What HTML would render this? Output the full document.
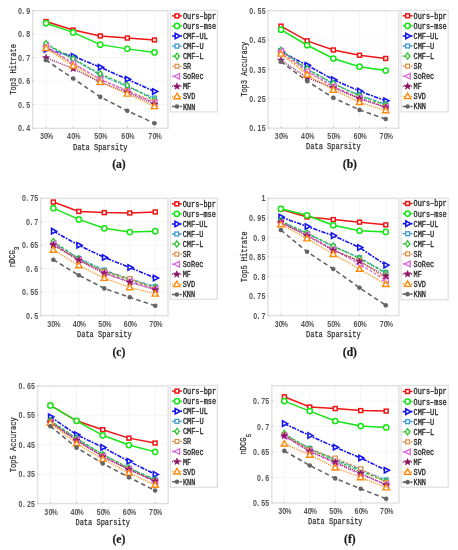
<!DOCTYPE html><html><head><meta charset="utf-8"><style>html,body{margin:0;padding:0;background:#fff;}svg{display:block;filter:blur(0.4px)}</style></head><body>
<svg width="458" height="550" viewBox="0 0 458 550">
<rect width="458" height="550" fill="#fff"/>
<g stroke="#f3f3f3" stroke-width="0.8"><line x1="46.05" y1="10.5" x2="46.05" y2="128.2"/><line x1="73.15" y1="10.5" x2="73.15" y2="128.2"/><line x1="100.25" y1="10.5" x2="100.25" y2="128.2"/><line x1="127.35" y1="10.5" x2="127.35" y2="128.2"/><line x1="154.45" y1="10.5" x2="154.45" y2="128.2"/><line x1="32.5" y1="104.66" x2="168" y2="104.66"/><line x1="32.5" y1="81.12" x2="168" y2="81.12"/><line x1="32.5" y1="57.58" x2="168" y2="57.58"/><line x1="32.5" y1="34.04" x2="168" y2="34.04"/></g>
<rect x="32.7" y="10.6" width="135.3" height="117.7" fill="none" stroke="#e0e0e0" stroke-width="1.4"/>
<g stroke="#b0b0b0" stroke-width="0.8"><line x1="46.05" y1="128.2" x2="46.05" y2="126.9"/><line x1="73.15" y1="128.2" x2="73.15" y2="126.9"/><line x1="100.25" y1="128.2" x2="100.25" y2="126.9"/><line x1="127.35" y1="128.2" x2="127.35" y2="126.9"/><line x1="154.45" y1="128.2" x2="154.45" y2="126.9"/><line x1="32.5" y1="128.2" x2="33.8" y2="128.2"/><line x1="32.5" y1="104.66" x2="33.8" y2="104.66"/><line x1="32.5" y1="81.12" x2="33.8" y2="81.12"/><line x1="32.5" y1="57.58" x2="33.8" y2="57.58"/><line x1="32.5" y1="34.04" x2="33.8" y2="34.04"/><line x1="32.5" y1="10.5" x2="33.8" y2="10.5"/></g>
<polyline points="46.05,21.56 73.15,30.04 100.25,35.92 127.35,38.04 154.45,39.92" fill="none" stroke="#f01414" stroke-width="1.5"/>
<polyline points="46.05,23.21 73.15,32.39 100.25,44.63 127.35,48.87 154.45,52.4" fill="none" stroke="#14e614" stroke-width="1.5"/>
<polyline points="46.05,49.34 73.15,56.17 100.25,67.23 127.35,79.24 154.45,91.48" fill="none" stroke="#1414f0" stroke-width="1.6" stroke-dasharray="4.4,1.2,1.8,1.2"/>
<polyline points="46.05,44.4 73.15,59.23 100.25,75 127.35,86.77 154.45,98.07" fill="none" stroke="#3c9ad2" stroke-width="1.3" stroke-dasharray="3.4,1.2,1.2,1.2"/>
<polyline points="46.05,43.69 73.15,58.76 100.25,73.82 127.35,85.36 154.45,100.42" fill="none" stroke="#2ec42e" stroke-width="1.3" stroke-dasharray="3,1.8"/>
<polyline points="46.05,47.46 73.15,63.94 100.25,79.24 127.35,90.54 154.45,101.84" fill="none" stroke="#dc8c46" stroke-width="1.2" stroke-dasharray="2.4,1.6"/>
<polyline points="46.05,46.28 73.15,62.99 100.25,79.47 127.35,91.24 154.45,102.78" fill="none" stroke="#dc64dc" stroke-width="1.3" stroke-dasharray="3,1.8"/>
<polyline points="46.05,57.82 73.15,68.64 100.25,82.3 127.35,92.42 154.45,104.19" fill="none" stroke="#8c1464" stroke-width="1.3" stroke-dasharray="1,1.1"/>
<polyline points="46.05,48.16 73.15,65.82 100.25,82.06 127.35,93.83 154.45,106.31" fill="none" stroke="#ff8a0a" stroke-width="1.4" stroke-dasharray="1,1.1"/>
<polyline points="46.05,60.17 73.15,78.53 100.25,96.89 127.35,110.78 154.45,123.26" fill="none" stroke="#646464" stroke-width="1.6" stroke-dasharray="4.5,3.2"/>
<rect x="44.1" y="19.61" width="3.9" height="3.9" fill="#fff" stroke="#f01414" stroke-width="1.5"/>
<rect x="71.2" y="28.09" width="3.9" height="3.9" fill="#fff" stroke="#f01414" stroke-width="1.5"/>
<rect x="98.3" y="33.97" width="3.9" height="3.9" fill="#fff" stroke="#f01414" stroke-width="1.5"/>
<rect x="125.4" y="36.09" width="3.9" height="3.9" fill="#fff" stroke="#f01414" stroke-width="1.5"/>
<rect x="152.5" y="37.97" width="3.9" height="3.9" fill="#fff" stroke="#f01414" stroke-width="1.5"/>
<circle cx="46.05" cy="23.21" r="2.6" fill="#fff" stroke="#14e614" stroke-width="1.5"/>
<circle cx="73.15" cy="32.39" r="2.6" fill="#fff" stroke="#14e614" stroke-width="1.5"/>
<circle cx="100.25" cy="44.63" r="2.6" fill="#fff" stroke="#14e614" stroke-width="1.5"/>
<circle cx="127.35" cy="48.87" r="2.6" fill="#fff" stroke="#14e614" stroke-width="1.5"/>
<circle cx="154.45" cy="52.4" r="2.6" fill="#fff" stroke="#14e614" stroke-width="1.5"/>
<polygon points="49.25,49.34 44.25,46.64 44.25,52.04" fill="#fff" stroke="#1414f0" stroke-width="1.6" stroke-linejoin="miter"/>
<polygon points="76.35,56.17 71.35,53.47 71.35,58.87" fill="#fff" stroke="#1414f0" stroke-width="1.6" stroke-linejoin="miter"/>
<polygon points="103.45,67.23 98.45,64.53 98.45,69.93" fill="#fff" stroke="#1414f0" stroke-width="1.6" stroke-linejoin="miter"/>
<polygon points="130.55,79.24 125.55,76.54 125.55,81.94" fill="#fff" stroke="#1414f0" stroke-width="1.6" stroke-linejoin="miter"/>
<polygon points="157.65,91.48 152.65,88.78 152.65,94.18" fill="#fff" stroke="#1414f0" stroke-width="1.6" stroke-linejoin="miter"/>
<rect x="44.1" y="42.45" width="3.9" height="3.9" fill="#fff" stroke="#3c9ad2" stroke-width="1.3"/>
<rect x="71.2" y="57.28" width="3.9" height="3.9" fill="#fff" stroke="#3c9ad2" stroke-width="1.3"/>
<rect x="98.3" y="73.05" width="3.9" height="3.9" fill="#fff" stroke="#3c9ad2" stroke-width="1.3"/>
<rect x="125.4" y="84.82" width="3.9" height="3.9" fill="#fff" stroke="#3c9ad2" stroke-width="1.3"/>
<rect x="152.5" y="96.12" width="3.9" height="3.9" fill="#fff" stroke="#3c9ad2" stroke-width="1.3"/>
<polygon points="46.05,40.59 48.25,43.69 46.05,46.79 43.85,43.69" fill="#fff" stroke="#2ec42e" stroke-width="1.3"/>
<polygon points="73.15,55.66 75.35,58.76 73.15,61.86 70.95,58.76" fill="#fff" stroke="#2ec42e" stroke-width="1.3"/>
<polygon points="100.25,70.72 102.45,73.82 100.25,76.92 98.05,73.82" fill="#fff" stroke="#2ec42e" stroke-width="1.3"/>
<polygon points="127.35,82.26 129.55,85.36 127.35,88.46 125.15,85.36" fill="#fff" stroke="#2ec42e" stroke-width="1.3"/>
<polygon points="154.45,97.32 156.65,100.42 154.45,103.52 152.25,100.42" fill="#fff" stroke="#2ec42e" stroke-width="1.3"/>
<rect x="44.1" y="45.51" width="3.9" height="3.9" fill="#fff" stroke="#dc8c46" stroke-width="1.2"/>
<rect x="71.2" y="61.99" width="3.9" height="3.9" fill="#fff" stroke="#dc8c46" stroke-width="1.2"/>
<rect x="98.3" y="77.29" width="3.9" height="3.9" fill="#fff" stroke="#dc8c46" stroke-width="1.2"/>
<rect x="125.4" y="88.59" width="3.9" height="3.9" fill="#fff" stroke="#dc8c46" stroke-width="1.2"/>
<rect x="152.5" y="99.89" width="3.9" height="3.9" fill="#fff" stroke="#dc8c46" stroke-width="1.2"/>
<polygon points="43.05,46.28 48.65,43.48 48.65,49.08" fill="#fff" stroke="#dc64dc" stroke-width="1.3" stroke-linejoin="miter"/>
<polygon points="70.15,62.99 75.75,60.19 75.75,65.79" fill="#fff" stroke="#dc64dc" stroke-width="1.3" stroke-linejoin="miter"/>
<polygon points="97.25,79.47 102.85,76.67 102.85,82.27" fill="#fff" stroke="#dc64dc" stroke-width="1.3" stroke-linejoin="miter"/>
<polygon points="124.35,91.24 129.95,88.44 129.95,94.04" fill="#fff" stroke="#dc64dc" stroke-width="1.3" stroke-linejoin="miter"/>
<polygon points="151.45,102.78 157.05,99.98 157.05,105.58" fill="#fff" stroke="#dc64dc" stroke-width="1.3" stroke-linejoin="miter"/>
<polygon points="46.05,54.22 46.93,56.6 49.47,56.7 47.48,58.28 48.17,60.73 46.05,59.32 43.93,60.73 44.62,58.28 42.63,56.7 45.17,56.6" fill="#8c1464" stroke="#8c1464" stroke-width="0.6"/>
<polygon points="73.15,65.04 74.03,67.43 76.57,67.53 74.58,69.11 75.27,71.56 73.15,70.14 71.03,71.56 71.72,69.11 69.73,67.53 72.27,67.43" fill="#8c1464" stroke="#8c1464" stroke-width="0.6"/>
<polygon points="100.25,78.7 101.13,81.08 103.67,81.18 101.68,82.76 102.37,85.21 100.25,83.8 98.13,85.21 98.82,82.76 96.83,81.18 99.37,81.08" fill="#8c1464" stroke="#8c1464" stroke-width="0.6"/>
<polygon points="127.35,88.82 128.23,91.21 130.77,91.31 128.78,92.88 129.47,95.33 127.35,93.92 125.23,95.33 125.92,92.88 123.93,91.31 126.47,91.21" fill="#8c1464" stroke="#8c1464" stroke-width="0.6"/>
<polygon points="154.45,100.59 155.33,102.98 157.87,103.08 155.88,104.65 156.57,107.1 154.45,105.69 152.33,107.1 153.02,104.65 151.03,103.08 153.57,102.98" fill="#8c1464" stroke="#8c1464" stroke-width="0.6"/>
<polygon points="46.05,44.96 42.85,50.46 49.25,50.46" fill="#fff" stroke="#ff8a0a" stroke-width="1.4" stroke-linejoin="miter"/>
<polygon points="73.15,62.62 69.95,68.12 76.35,68.12" fill="#fff" stroke="#ff8a0a" stroke-width="1.4" stroke-linejoin="miter"/>
<polygon points="100.25,78.86 97.05,84.36 103.45,84.36" fill="#fff" stroke="#ff8a0a" stroke-width="1.4" stroke-linejoin="miter"/>
<polygon points="127.35,90.63 124.15,96.13 130.55,96.13" fill="#fff" stroke="#ff8a0a" stroke-width="1.4" stroke-linejoin="miter"/>
<polygon points="154.45,103.11 151.25,108.61 157.65,108.61" fill="#fff" stroke="#ff8a0a" stroke-width="1.4" stroke-linejoin="miter"/>
<circle cx="46.05" cy="60.17" r="2.3" fill="#646464"/>
<circle cx="73.15" cy="78.53" r="2.3" fill="#646464"/>
<circle cx="100.25" cy="96.89" r="2.3" fill="#646464"/>
<circle cx="127.35" cy="110.78" r="2.3" fill="#646464"/>
<circle cx="154.45" cy="123.26" r="2.3" fill="#646464"/>
<g font-family='"Liberation Sans", sans-serif' font-size="8.4" fill="#555555" font-weight="bold"><text transform="scale(0.84,1)" x="21.38 26.54 31.27" y="131.41">0.4</text><text transform="scale(0.84,1)" x="21.38 26.54 31.27" y="107.87">0.5</text><text transform="scale(0.84,1)" x="21.38 26.54 31.27" y="84.33">0.6</text><text transform="scale(0.84,1)" x="21.38 26.54 31.27" y="60.79">0.7</text><text transform="scale(0.84,1)" x="21.38 26.54 31.27" y="37.25">0.8</text><text transform="scale(0.84,1)" x="21.38 26.54 31.27" y="13.71">0.9</text><text transform="scale(0.84,1)" x="47.55 52.49 56.03" y="139.31">30%</text><text transform="scale(0.84,1)" x="79.81 84.75 88.29" y="139.31">40%</text><text transform="scale(0.84,1)" x="112.07 117.01 120.55" y="139.31">50%</text><text transform="scale(0.84,1)" x="144.33 149.27 152.81" y="139.31">60%</text><text transform="scale(0.84,1)" x="176.59 181.53 185.08" y="139.31">70%</text></g>
<g font-family='"Liberation Mono", monospace' font-size="8.3" fill="#333333" font-weight="normal" stroke="#333333" stroke-width="0.25"><text x="72.95" y="149.53" textLength="54.6" lengthAdjust="spacingAndGlyphs">Data Sparsity</text><g transform="translate(15.73,94.73) rotate(-90)"><text x="0" y="0" textLength="50.76" lengthAdjust="spacingAndGlyphs">Top3 Hitrate</text></g></g>
<rect x="170.5" y="10.4" width="46.9" height="101.5" fill="#fff" stroke="#e0e0e0" stroke-width="1.3"/>
<line x1="172.1" y1="15.9" x2="181.9" y2="15.9" stroke="#f01414" stroke-width="1.5"/><rect x="175.05" y="13.95" width="3.9" height="3.9" fill="#fff" stroke="#f01414" stroke-width="1.5"/><line x1="172.1" y1="25.97" x2="181.9" y2="25.97" stroke="#14e614" stroke-width="1.5"/><circle cx="177" cy="25.97" r="2.6" fill="#fff" stroke="#14e614" stroke-width="1.5"/><line x1="172.1" y1="36.04" x2="181.9" y2="36.04" stroke="#1414f0" stroke-width="1.6" stroke-dasharray="4.4,1.2,1.8,1.2"/><polygon points="180.2,36.04 175.2,33.34 175.2,38.74" fill="#fff" stroke="#1414f0" stroke-width="1.6" stroke-linejoin="miter"/><line x1="172.1" y1="46.11" x2="181.9" y2="46.11" stroke="#3c9ad2" stroke-width="1.3" stroke-dasharray="3.4,1.2,1.2,1.2"/><rect x="175.05" y="44.16" width="3.9" height="3.9" fill="#fff" stroke="#3c9ad2" stroke-width="1.3"/><line x1="172.1" y1="56.18" x2="181.9" y2="56.18" stroke="#2ec42e" stroke-width="1.3" stroke-dasharray="3,1.8"/><polygon points="177,53.08 179.2,56.18 177,59.28 174.8,56.18" fill="#fff" stroke="#2ec42e" stroke-width="1.3"/><line x1="172.1" y1="66.25" x2="181.9" y2="66.25" stroke="#dc8c46" stroke-width="1.2" stroke-dasharray="2.4,1.6"/><rect x="175.05" y="64.3" width="3.9" height="3.9" fill="#fff" stroke="#dc8c46" stroke-width="1.2"/><line x1="172.1" y1="76.32" x2="181.9" y2="76.32" stroke="#dc64dc" stroke-width="1.3" stroke-dasharray="3,1.8"/><polygon points="174,76.32 179.6,73.52 179.6,79.12" fill="#fff" stroke="#dc64dc" stroke-width="1.3" stroke-linejoin="miter"/><line x1="172.1" y1="86.39" x2="181.9" y2="86.39" stroke="#8c1464" stroke-width="1.3" stroke-dasharray="1,1.1"/><polygon points="177,82.79 177.88,85.18 180.42,85.28 178.43,86.85 179.12,89.3 177,87.89 174.88,89.3 175.57,86.85 173.58,85.28 176.12,85.18" fill="#8c1464" stroke="#8c1464" stroke-width="0.6"/><line x1="172.1" y1="96.46" x2="181.9" y2="96.46" stroke="#ff8a0a" stroke-width="1.4" stroke-dasharray="1,1.1"/><polygon points="177,93.26 173.8,98.76 180.2,98.76" fill="#fff" stroke="#ff8a0a" stroke-width="1.4" stroke-linejoin="miter"/><line x1="172.1" y1="106.53" x2="181.9" y2="106.53" stroke="#646464" stroke-width="1.6" stroke-dasharray="4.5,3.2"/><circle cx="177" cy="106.53" r="2.3" fill="#646464"/>
<g font-family='"Liberation Mono", monospace' font-size="8.3" fill="#262626" font-weight="normal" stroke="#262626" stroke-width="0.3"><text x="182.9" y="18.88" textLength="33.2" lengthAdjust="spacingAndGlyphs">Ours–bpr</text><text x="182.9" y="28.95" textLength="33.2" lengthAdjust="spacingAndGlyphs">Ours–mse</text><text x="182.9" y="39.02" textLength="24.9" lengthAdjust="spacingAndGlyphs">CMF–UL</text><text x="182.9" y="49.09" textLength="20.75" lengthAdjust="spacingAndGlyphs">CMF–U</text><text x="182.9" y="59.16" textLength="20.75" lengthAdjust="spacingAndGlyphs">CMF–L</text><text x="182.9" y="69.23" textLength="8.3" lengthAdjust="spacingAndGlyphs">SR</text><text x="182.9" y="79.3" textLength="20.75" lengthAdjust="spacingAndGlyphs">SoRec</text><text x="182.9" y="89.37" textLength="8.3" lengthAdjust="spacingAndGlyphs">MF</text><text x="182.9" y="99.44" textLength="12.45" lengthAdjust="spacingAndGlyphs">SVD</text><text x="182.9" y="109.51" textLength="12.45" lengthAdjust="spacingAndGlyphs">KNN</text></g>
<text x="118.9" y="168.2" text-anchor="middle" font-family='"Liberation Serif", serif' font-weight="bold" font-size="11.6" fill="#1a1a1a" stroke="#1a1a1a" stroke-width="0.2">(a)</text>
<g stroke="#f3f3f3" stroke-width="0.8"><line x1="280.99" y1="10.6" x2="280.99" y2="128.1"/><line x1="307.17" y1="10.6" x2="307.17" y2="128.1"/><line x1="333.35" y1="10.6" x2="333.35" y2="128.1"/><line x1="359.53" y1="10.6" x2="359.53" y2="128.1"/><line x1="385.71" y1="10.6" x2="385.71" y2="128.1"/><line x1="267.9" y1="98.72" x2="398.8" y2="98.72"/><line x1="267.9" y1="69.35" x2="398.8" y2="69.35"/><line x1="267.9" y1="39.97" x2="398.8" y2="39.97"/></g>
<rect x="268.1" y="10.7" width="130.7" height="117.5" fill="none" stroke="#e0e0e0" stroke-width="1.4"/>
<g stroke="#b0b0b0" stroke-width="0.8"><line x1="280.99" y1="128.1" x2="280.99" y2="126.8"/><line x1="307.17" y1="128.1" x2="307.17" y2="126.8"/><line x1="333.35" y1="128.1" x2="333.35" y2="126.8"/><line x1="359.53" y1="128.1" x2="359.53" y2="126.8"/><line x1="385.71" y1="128.1" x2="385.71" y2="126.8"/><line x1="267.9" y1="128.1" x2="269.2" y2="128.1"/><line x1="267.9" y1="98.72" x2="269.2" y2="98.72"/><line x1="267.9" y1="69.35" x2="269.2" y2="69.35"/><line x1="267.9" y1="39.97" x2="269.2" y2="39.97"/><line x1="267.9" y1="10.6" x2="269.2" y2="10.6"/></g>
<polyline points="280.99,26.17 307.17,40.86 333.35,49.96 359.53,55.25 385.71,58.48" fill="none" stroke="#f01414" stroke-width="1.5"/>
<polyline points="280.99,29.69 307.17,45.26 333.35,58.48 359.53,66.71 385.71,70.53" fill="none" stroke="#14e614" stroke-width="1.5"/>
<polyline points="280.99,51.72 307.17,65.24 333.35,79.63 359.53,91.09 385.71,100.78" fill="none" stroke="#1414f0" stroke-width="1.6" stroke-dasharray="4.4,1.2,1.8,1.2"/>
<polyline points="280.99,50.84 307.17,69.35 333.35,84.04 359.53,95.2 385.71,104.01" fill="none" stroke="#3c9ad2" stroke-width="1.3" stroke-dasharray="3.4,1.2,1.2,1.2"/>
<polyline points="280.99,50.11 307.17,68.76 333.35,83.45 359.53,96.08 385.71,105.19" fill="none" stroke="#2ec42e" stroke-width="1.3" stroke-dasharray="3,1.8"/>
<polyline points="280.99,53.19 307.17,71.7 333.35,86.97 359.53,98.43 385.71,106.95" fill="none" stroke="#dc8c46" stroke-width="1.2" stroke-dasharray="2.4,1.6"/>
<polyline points="280.99,51.14 307.17,70.82 333.35,86.39 359.53,98.14 385.71,106.95" fill="none" stroke="#dc64dc" stroke-width="1.3" stroke-dasharray="3,1.8"/>
<polyline points="280.99,60.24 307.17,77.57 333.35,87.86 359.53,98.72 385.71,107.54" fill="none" stroke="#8c1464" stroke-width="1.3" stroke-dasharray="1,1.1"/>
<polyline points="280.99,53.78 307.17,74.64 333.35,89.91 359.53,102.25 385.71,110.47" fill="none" stroke="#ff8a0a" stroke-width="1.4" stroke-dasharray="1,1.1"/>
<polyline points="280.99,61.71 307.17,81.1 333.35,97.84 359.53,109.89 385.71,118.99" fill="none" stroke="#646464" stroke-width="1.6" stroke-dasharray="4.5,3.2"/>
<rect x="279.04" y="24.22" width="3.9" height="3.9" fill="#fff" stroke="#f01414" stroke-width="1.5"/>
<rect x="305.22" y="38.91" width="3.9" height="3.9" fill="#fff" stroke="#f01414" stroke-width="1.5"/>
<rect x="331.4" y="48.01" width="3.9" height="3.9" fill="#fff" stroke="#f01414" stroke-width="1.5"/>
<rect x="357.58" y="53.3" width="3.9" height="3.9" fill="#fff" stroke="#f01414" stroke-width="1.5"/>
<rect x="383.76" y="56.53" width="3.9" height="3.9" fill="#fff" stroke="#f01414" stroke-width="1.5"/>
<circle cx="280.99" cy="29.69" r="2.6" fill="#fff" stroke="#14e614" stroke-width="1.5"/>
<circle cx="307.17" cy="45.26" r="2.6" fill="#fff" stroke="#14e614" stroke-width="1.5"/>
<circle cx="333.35" cy="58.48" r="2.6" fill="#fff" stroke="#14e614" stroke-width="1.5"/>
<circle cx="359.53" cy="66.71" r="2.6" fill="#fff" stroke="#14e614" stroke-width="1.5"/>
<circle cx="385.71" cy="70.53" r="2.6" fill="#fff" stroke="#14e614" stroke-width="1.5"/>
<polygon points="284.19,51.72 279.19,49.02 279.19,54.42" fill="#fff" stroke="#1414f0" stroke-width="1.6" stroke-linejoin="miter"/>
<polygon points="310.37,65.24 305.37,62.54 305.37,67.94" fill="#fff" stroke="#1414f0" stroke-width="1.6" stroke-linejoin="miter"/>
<polygon points="336.55,79.63 331.55,76.93 331.55,82.33" fill="#fff" stroke="#1414f0" stroke-width="1.6" stroke-linejoin="miter"/>
<polygon points="362.73,91.09 357.73,88.39 357.73,93.79" fill="#fff" stroke="#1414f0" stroke-width="1.6" stroke-linejoin="miter"/>
<polygon points="388.91,100.78 383.91,98.08 383.91,103.48" fill="#fff" stroke="#1414f0" stroke-width="1.6" stroke-linejoin="miter"/>
<rect x="279.04" y="48.89" width="3.9" height="3.9" fill="#fff" stroke="#3c9ad2" stroke-width="1.3"/>
<rect x="305.22" y="67.4" width="3.9" height="3.9" fill="#fff" stroke="#3c9ad2" stroke-width="1.3"/>
<rect x="331.4" y="82.09" width="3.9" height="3.9" fill="#fff" stroke="#3c9ad2" stroke-width="1.3"/>
<rect x="357.58" y="93.25" width="3.9" height="3.9" fill="#fff" stroke="#3c9ad2" stroke-width="1.3"/>
<rect x="383.76" y="102.06" width="3.9" height="3.9" fill="#fff" stroke="#3c9ad2" stroke-width="1.3"/>
<polygon points="280.99,47.01 283.19,50.11 280.99,53.21 278.79,50.11" fill="#fff" stroke="#2ec42e" stroke-width="1.3"/>
<polygon points="307.17,65.66 309.37,68.76 307.17,71.86 304.97,68.76" fill="#fff" stroke="#2ec42e" stroke-width="1.3"/>
<polygon points="333.35,80.35 335.55,83.45 333.35,86.55 331.15,83.45" fill="#fff" stroke="#2ec42e" stroke-width="1.3"/>
<polygon points="359.53,92.98 361.73,96.08 359.53,99.18 357.33,96.08" fill="#fff" stroke="#2ec42e" stroke-width="1.3"/>
<polygon points="385.71,102.09 387.91,105.19 385.71,108.29 383.51,105.19" fill="#fff" stroke="#2ec42e" stroke-width="1.3"/>
<rect x="279.04" y="51.24" width="3.9" height="3.9" fill="#fff" stroke="#dc8c46" stroke-width="1.2"/>
<rect x="305.22" y="69.75" width="3.9" height="3.9" fill="#fff" stroke="#dc8c46" stroke-width="1.2"/>
<rect x="331.4" y="85.02" width="3.9" height="3.9" fill="#fff" stroke="#dc8c46" stroke-width="1.2"/>
<rect x="357.58" y="96.48" width="3.9" height="3.9" fill="#fff" stroke="#dc8c46" stroke-width="1.2"/>
<rect x="383.76" y="105" width="3.9" height="3.9" fill="#fff" stroke="#dc8c46" stroke-width="1.2"/>
<polygon points="277.99,51.14 283.59,48.34 283.59,53.94" fill="#fff" stroke="#dc64dc" stroke-width="1.3" stroke-linejoin="miter"/>
<polygon points="304.17,70.82 309.77,68.02 309.77,73.62" fill="#fff" stroke="#dc64dc" stroke-width="1.3" stroke-linejoin="miter"/>
<polygon points="330.35,86.39 335.95,83.59 335.95,89.19" fill="#fff" stroke="#dc64dc" stroke-width="1.3" stroke-linejoin="miter"/>
<polygon points="356.53,98.14 362.13,95.34 362.13,100.94" fill="#fff" stroke="#dc64dc" stroke-width="1.3" stroke-linejoin="miter"/>
<polygon points="382.71,106.95 388.31,104.15 388.31,109.75" fill="#fff" stroke="#dc64dc" stroke-width="1.3" stroke-linejoin="miter"/>
<polygon points="280.99,56.64 281.87,59.03 284.41,59.13 282.42,60.71 283.11,63.16 280.99,61.74 278.87,63.16 279.56,60.71 277.57,59.13 280.11,59.03" fill="#8c1464" stroke="#8c1464" stroke-width="0.6"/>
<polygon points="307.17,73.97 308.05,76.36 310.59,76.46 308.6,78.04 309.29,80.49 307.17,79.07 305.05,80.49 305.74,78.04 303.75,76.46 306.29,76.36" fill="#8c1464" stroke="#8c1464" stroke-width="0.6"/>
<polygon points="333.35,84.26 334.23,86.64 336.77,86.74 334.78,88.32 335.47,90.77 333.35,89.36 331.23,90.77 331.92,88.32 329.93,86.74 332.47,86.64" fill="#8c1464" stroke="#8c1464" stroke-width="0.6"/>
<polygon points="359.53,95.12 360.41,97.51 362.95,97.61 360.96,99.19 361.65,101.64 359.53,100.22 357.41,101.64 358.1,99.19 356.11,97.61 358.65,97.51" fill="#8c1464" stroke="#8c1464" stroke-width="0.6"/>
<polygon points="385.71,103.94 386.59,106.32 389.13,106.43 387.14,108 387.83,110.45 385.71,109.04 383.59,110.45 384.28,108 382.29,106.43 384.83,106.32" fill="#8c1464" stroke="#8c1464" stroke-width="0.6"/>
<polygon points="280.99,50.58 277.79,56.08 284.19,56.08" fill="#fff" stroke="#ff8a0a" stroke-width="1.4" stroke-linejoin="miter"/>
<polygon points="307.17,71.44 303.97,76.94 310.37,76.94" fill="#fff" stroke="#ff8a0a" stroke-width="1.4" stroke-linejoin="miter"/>
<polygon points="333.35,86.71 330.15,92.21 336.55,92.21" fill="#fff" stroke="#ff8a0a" stroke-width="1.4" stroke-linejoin="miter"/>
<polygon points="359.53,99.05 356.33,104.55 362.73,104.55" fill="#fff" stroke="#ff8a0a" stroke-width="1.4" stroke-linejoin="miter"/>
<polygon points="385.71,107.27 382.51,112.77 388.91,112.77" fill="#fff" stroke="#ff8a0a" stroke-width="1.4" stroke-linejoin="miter"/>
<circle cx="280.99" cy="61.71" r="2.3" fill="#646464"/>
<circle cx="307.17" cy="81.1" r="2.3" fill="#646464"/>
<circle cx="333.35" cy="97.84" r="2.3" fill="#646464"/>
<circle cx="359.53" cy="109.89" r="2.3" fill="#646464"/>
<circle cx="385.71" cy="118.99" r="2.3" fill="#646464"/>
<g font-family='"Liberation Sans", sans-serif' font-size="8.4" fill="#555555" font-weight="bold"><text transform="scale(0.84,1)" x="296.68 301.84 306.56 311.50" y="131.31">0.15</text><text transform="scale(0.84,1)" x="296.68 301.84 306.56 311.50" y="101.93">0.25</text><text transform="scale(0.84,1)" x="296.68 301.84 306.56 311.50" y="72.56">0.35</text><text transform="scale(0.84,1)" x="296.68 301.84 306.56 311.50" y="43.18">0.45</text><text transform="scale(0.84,1)" x="296.68 301.84 306.56 311.50" y="13.81">0.55</text><text transform="scale(0.84,1)" x="327.24 332.18 335.72" y="139.21">30%</text><text transform="scale(0.84,1)" x="358.40 363.34 366.88" y="139.21">40%</text><text transform="scale(0.84,1)" x="389.57 394.51 398.05" y="139.21">50%</text><text transform="scale(0.84,1)" x="420.74 425.68 429.22" y="139.21">60%</text><text transform="scale(0.84,1)" x="451.90 456.84 460.38" y="139.21">70%</text></g>
<g font-family='"Liberation Mono", monospace' font-size="8.3" fill="#333333" font-weight="normal" stroke="#333333" stroke-width="0.25"><text x="306.05" y="149.43" textLength="54.6" lengthAdjust="spacingAndGlyphs">Data Sparsity</text><g transform="translate(246.83,96.84) rotate(-90)"><text x="0" y="0" textLength="54.99" lengthAdjust="spacingAndGlyphs">Top3 Accuracy</text></g></g>
<rect x="401.1" y="10.3" width="47.1" height="101.6" fill="#fff" stroke="#e0e0e0" stroke-width="1.3"/>
<line x1="402.7" y1="15.8" x2="412.5" y2="15.8" stroke="#f01414" stroke-width="1.5"/><rect x="405.65" y="13.85" width="3.9" height="3.9" fill="#fff" stroke="#f01414" stroke-width="1.5"/><line x1="402.7" y1="25.87" x2="412.5" y2="25.87" stroke="#14e614" stroke-width="1.5"/><circle cx="407.6" cy="25.87" r="2.6" fill="#fff" stroke="#14e614" stroke-width="1.5"/><line x1="402.7" y1="35.94" x2="412.5" y2="35.94" stroke="#1414f0" stroke-width="1.6" stroke-dasharray="4.4,1.2,1.8,1.2"/><polygon points="410.8,35.94 405.8,33.24 405.8,38.64" fill="#fff" stroke="#1414f0" stroke-width="1.6" stroke-linejoin="miter"/><line x1="402.7" y1="46.01" x2="412.5" y2="46.01" stroke="#3c9ad2" stroke-width="1.3" stroke-dasharray="3.4,1.2,1.2,1.2"/><rect x="405.65" y="44.06" width="3.9" height="3.9" fill="#fff" stroke="#3c9ad2" stroke-width="1.3"/><line x1="402.7" y1="56.08" x2="412.5" y2="56.08" stroke="#2ec42e" stroke-width="1.3" stroke-dasharray="3,1.8"/><polygon points="407.6,52.98 409.8,56.08 407.6,59.18 405.4,56.08" fill="#fff" stroke="#2ec42e" stroke-width="1.3"/><line x1="402.7" y1="66.15" x2="412.5" y2="66.15" stroke="#dc8c46" stroke-width="1.2" stroke-dasharray="2.4,1.6"/><rect x="405.65" y="64.2" width="3.9" height="3.9" fill="#fff" stroke="#dc8c46" stroke-width="1.2"/><line x1="402.7" y1="76.22" x2="412.5" y2="76.22" stroke="#dc64dc" stroke-width="1.3" stroke-dasharray="3,1.8"/><polygon points="404.6,76.22 410.2,73.42 410.2,79.02" fill="#fff" stroke="#dc64dc" stroke-width="1.3" stroke-linejoin="miter"/><line x1="402.7" y1="86.29" x2="412.5" y2="86.29" stroke="#8c1464" stroke-width="1.3" stroke-dasharray="1,1.1"/><polygon points="407.6,82.69 408.48,85.08 411.02,85.18 409.03,86.75 409.72,89.2 407.6,87.79 405.48,89.2 406.17,86.75 404.18,85.18 406.72,85.08" fill="#8c1464" stroke="#8c1464" stroke-width="0.6"/><line x1="402.7" y1="96.36" x2="412.5" y2="96.36" stroke="#ff8a0a" stroke-width="1.4" stroke-dasharray="1,1.1"/><polygon points="407.6,93.16 404.4,98.66 410.8,98.66" fill="#fff" stroke="#ff8a0a" stroke-width="1.4" stroke-linejoin="miter"/><line x1="402.7" y1="106.43" x2="412.5" y2="106.43" stroke="#646464" stroke-width="1.6" stroke-dasharray="4.5,3.2"/><circle cx="407.6" cy="106.43" r="2.3" fill="#646464"/>
<g font-family='"Liberation Mono", monospace' font-size="8.3" fill="#262626" font-weight="normal" stroke="#262626" stroke-width="0.3"><text x="413.5" y="18.78" textLength="33.2" lengthAdjust="spacingAndGlyphs">Ours–bpr</text><text x="413.5" y="28.85" textLength="33.2" lengthAdjust="spacingAndGlyphs">Ours–mse</text><text x="413.5" y="38.92" textLength="24.9" lengthAdjust="spacingAndGlyphs">CMF–UL</text><text x="413.5" y="48.99" textLength="20.75" lengthAdjust="spacingAndGlyphs">CMF–U</text><text x="413.5" y="59.06" textLength="20.75" lengthAdjust="spacingAndGlyphs">CMF–L</text><text x="413.5" y="69.13" textLength="8.3" lengthAdjust="spacingAndGlyphs">SR</text><text x="413.5" y="79.2" textLength="20.75" lengthAdjust="spacingAndGlyphs">SoRec</text><text x="413.5" y="89.27" textLength="8.3" lengthAdjust="spacingAndGlyphs">MF</text><text x="413.5" y="99.34" textLength="12.45" lengthAdjust="spacingAndGlyphs">SVD</text><text x="413.5" y="109.41" textLength="12.45" lengthAdjust="spacingAndGlyphs">KNN</text></g>
<text x="349.9" y="168.2" text-anchor="middle" font-family='"Liberation Serif", serif' font-weight="bold" font-size="11.6" fill="#1a1a1a" stroke="#1a1a1a" stroke-width="0.2">(b)</text>
<g stroke="#f3f3f3" stroke-width="0.8"><line x1="53.34" y1="198.3" x2="53.34" y2="315.6"/><line x1="78.82" y1="198.3" x2="78.82" y2="315.6"/><line x1="104.3" y1="198.3" x2="104.3" y2="315.6"/><line x1="129.78" y1="198.3" x2="129.78" y2="315.6"/><line x1="155.26" y1="198.3" x2="155.26" y2="315.6"/><line x1="40.6" y1="292.14" x2="168" y2="292.14"/><line x1="40.6" y1="268.68" x2="168" y2="268.68"/><line x1="40.6" y1="245.22" x2="168" y2="245.22"/><line x1="40.6" y1="221.76" x2="168" y2="221.76"/></g>
<rect x="40.8" y="198.4" width="127.2" height="117.3" fill="none" stroke="#e0e0e0" stroke-width="1.4"/>
<g stroke="#b0b0b0" stroke-width="0.8"><line x1="53.34" y1="315.6" x2="53.34" y2="314.3"/><line x1="78.82" y1="315.6" x2="78.82" y2="314.3"/><line x1="104.3" y1="315.6" x2="104.3" y2="314.3"/><line x1="129.78" y1="315.6" x2="129.78" y2="314.3"/><line x1="155.26" y1="315.6" x2="155.26" y2="314.3"/><line x1="40.6" y1="315.6" x2="41.9" y2="315.6"/><line x1="40.6" y1="292.14" x2="41.9" y2="292.14"/><line x1="40.6" y1="268.68" x2="41.9" y2="268.68"/><line x1="40.6" y1="245.22" x2="41.9" y2="245.22"/><line x1="40.6" y1="221.76" x2="41.9" y2="221.76"/><line x1="40.6" y1="198.3" x2="41.9" y2="198.3"/></g>
<polyline points="53.34,202.05 78.82,211.44 104.3,212.61 129.78,212.99 155.26,211.91" fill="none" stroke="#f01414" stroke-width="1.5"/>
<polyline points="53.34,208.15 78.82,219.41 104.3,228.33 129.78,232.08 155.26,231.14" fill="none" stroke="#14e614" stroke-width="1.5"/>
<polyline points="53.34,231.14 78.82,245.22 104.3,257.42 129.78,267.51 155.26,278.06" fill="none" stroke="#1414f0" stroke-width="1.6" stroke-dasharray="4.4,1.2,1.8,1.2"/>
<polyline points="53.34,242.87 78.82,258.36 104.3,270.09 129.78,279 155.26,286.51" fill="none" stroke="#3c9ad2" stroke-width="1.3" stroke-dasharray="3.4,1.2,1.2,1.2"/>
<polyline points="53.34,241.47 78.82,258.83 104.3,271.5 129.78,279.94 155.26,287.45" fill="none" stroke="#2ec42e" stroke-width="1.3" stroke-dasharray="3,1.8"/>
<polyline points="53.34,245.22 78.82,260.7 104.3,271.5 129.78,278.53 155.26,288.39" fill="none" stroke="#dc8c46" stroke-width="1.2" stroke-dasharray="2.4,1.6"/>
<polyline points="53.34,243.81 78.82,259.77 104.3,272.9 129.78,281.35 155.26,288.86" fill="none" stroke="#dc64dc" stroke-width="1.3" stroke-dasharray="3,1.8"/>
<polyline points="53.34,244.75 78.82,260.23 104.3,273.37 129.78,282.29 155.26,289.79" fill="none" stroke="#8c1464" stroke-width="1.3" stroke-dasharray="1,1.1"/>
<polyline points="53.34,249.91 78.82,265.4 104.3,278.06 129.78,287.45 155.26,293.78" fill="none" stroke="#ff8a0a" stroke-width="1.4" stroke-dasharray="1,1.1"/>
<polyline points="53.34,259.77 78.82,275.25 104.3,288.39 129.78,297.3 155.26,305.75" fill="none" stroke="#646464" stroke-width="1.6" stroke-dasharray="4.5,3.2"/>
<rect x="51.39" y="200.1" width="3.9" height="3.9" fill="#fff" stroke="#f01414" stroke-width="1.5"/>
<rect x="76.87" y="209.49" width="3.9" height="3.9" fill="#fff" stroke="#f01414" stroke-width="1.5"/>
<rect x="102.35" y="210.66" width="3.9" height="3.9" fill="#fff" stroke="#f01414" stroke-width="1.5"/>
<rect x="127.83" y="211.04" width="3.9" height="3.9" fill="#fff" stroke="#f01414" stroke-width="1.5"/>
<rect x="153.31" y="209.96" width="3.9" height="3.9" fill="#fff" stroke="#f01414" stroke-width="1.5"/>
<circle cx="53.34" cy="208.15" r="2.6" fill="#fff" stroke="#14e614" stroke-width="1.5"/>
<circle cx="78.82" cy="219.41" r="2.6" fill="#fff" stroke="#14e614" stroke-width="1.5"/>
<circle cx="104.3" cy="228.33" r="2.6" fill="#fff" stroke="#14e614" stroke-width="1.5"/>
<circle cx="129.78" cy="232.08" r="2.6" fill="#fff" stroke="#14e614" stroke-width="1.5"/>
<circle cx="155.26" cy="231.14" r="2.6" fill="#fff" stroke="#14e614" stroke-width="1.5"/>
<polygon points="56.54,231.14 51.54,228.44 51.54,233.84" fill="#fff" stroke="#1414f0" stroke-width="1.6" stroke-linejoin="miter"/>
<polygon points="82.02,245.22 77.02,242.52 77.02,247.92" fill="#fff" stroke="#1414f0" stroke-width="1.6" stroke-linejoin="miter"/>
<polygon points="107.5,257.42 102.5,254.72 102.5,260.12" fill="#fff" stroke="#1414f0" stroke-width="1.6" stroke-linejoin="miter"/>
<polygon points="132.98,267.51 127.98,264.81 127.98,270.21" fill="#fff" stroke="#1414f0" stroke-width="1.6" stroke-linejoin="miter"/>
<polygon points="158.46,278.06 153.46,275.36 153.46,280.76" fill="#fff" stroke="#1414f0" stroke-width="1.6" stroke-linejoin="miter"/>
<rect x="51.39" y="240.92" width="3.9" height="3.9" fill="#fff" stroke="#3c9ad2" stroke-width="1.3"/>
<rect x="76.87" y="256.41" width="3.9" height="3.9" fill="#fff" stroke="#3c9ad2" stroke-width="1.3"/>
<rect x="102.35" y="268.14" width="3.9" height="3.9" fill="#fff" stroke="#3c9ad2" stroke-width="1.3"/>
<rect x="127.83" y="277.05" width="3.9" height="3.9" fill="#fff" stroke="#3c9ad2" stroke-width="1.3"/>
<rect x="153.31" y="284.56" width="3.9" height="3.9" fill="#fff" stroke="#3c9ad2" stroke-width="1.3"/>
<polygon points="53.34,238.37 55.54,241.47 53.34,244.57 51.14,241.47" fill="#fff" stroke="#2ec42e" stroke-width="1.3"/>
<polygon points="78.82,255.73 81.02,258.83 78.82,261.93 76.62,258.83" fill="#fff" stroke="#2ec42e" stroke-width="1.3"/>
<polygon points="104.3,268.4 106.5,271.5 104.3,274.6 102.1,271.5" fill="#fff" stroke="#2ec42e" stroke-width="1.3"/>
<polygon points="129.78,276.84 131.98,279.94 129.78,283.04 127.58,279.94" fill="#fff" stroke="#2ec42e" stroke-width="1.3"/>
<polygon points="155.26,284.35 157.46,287.45 155.26,290.55 153.06,287.45" fill="#fff" stroke="#2ec42e" stroke-width="1.3"/>
<rect x="51.39" y="243.27" width="3.9" height="3.9" fill="#fff" stroke="#dc8c46" stroke-width="1.2"/>
<rect x="76.87" y="258.75" width="3.9" height="3.9" fill="#fff" stroke="#dc8c46" stroke-width="1.2"/>
<rect x="102.35" y="269.55" width="3.9" height="3.9" fill="#fff" stroke="#dc8c46" stroke-width="1.2"/>
<rect x="127.83" y="276.58" width="3.9" height="3.9" fill="#fff" stroke="#dc8c46" stroke-width="1.2"/>
<rect x="153.31" y="286.44" width="3.9" height="3.9" fill="#fff" stroke="#dc8c46" stroke-width="1.2"/>
<polygon points="50.34,243.81 55.94,241.01 55.94,246.61" fill="#fff" stroke="#dc64dc" stroke-width="1.3" stroke-linejoin="miter"/>
<polygon points="75.82,259.77 81.42,256.97 81.42,262.57" fill="#fff" stroke="#dc64dc" stroke-width="1.3" stroke-linejoin="miter"/>
<polygon points="101.3,272.9 106.9,270.1 106.9,275.7" fill="#fff" stroke="#dc64dc" stroke-width="1.3" stroke-linejoin="miter"/>
<polygon points="126.78,281.35 132.38,278.55 132.38,284.15" fill="#fff" stroke="#dc64dc" stroke-width="1.3" stroke-linejoin="miter"/>
<polygon points="152.26,288.86 157.86,286.06 157.86,291.66" fill="#fff" stroke="#dc64dc" stroke-width="1.3" stroke-linejoin="miter"/>
<polygon points="53.34,241.15 54.22,243.54 56.76,243.64 54.77,245.21 55.46,247.66 53.34,246.25 51.22,247.66 51.91,245.21 49.92,243.64 52.46,243.54" fill="#8c1464" stroke="#8c1464" stroke-width="0.6"/>
<polygon points="78.82,256.63 79.7,259.02 82.24,259.12 80.25,260.7 80.94,263.15 78.82,261.73 76.7,263.15 77.39,260.7 75.4,259.12 77.94,259.02" fill="#8c1464" stroke="#8c1464" stroke-width="0.6"/>
<polygon points="104.3,269.77 105.18,272.16 107.72,272.26 105.73,273.84 106.42,276.28 104.3,274.87 102.18,276.28 102.87,273.84 100.88,272.26 103.42,272.16" fill="#8c1464" stroke="#8c1464" stroke-width="0.6"/>
<polygon points="129.78,278.69 130.66,281.07 133.2,281.17 131.21,282.75 131.9,285.2 129.78,283.79 127.66,285.2 128.35,282.75 126.36,281.17 128.9,281.07" fill="#8c1464" stroke="#8c1464" stroke-width="0.6"/>
<polygon points="155.26,286.19 156.14,288.58 158.68,288.68 156.69,290.26 157.38,292.71 155.26,291.29 153.14,292.71 153.83,290.26 151.84,288.68 154.38,288.58" fill="#8c1464" stroke="#8c1464" stroke-width="0.6"/>
<polygon points="53.34,246.71 50.14,252.21 56.54,252.21" fill="#fff" stroke="#ff8a0a" stroke-width="1.4" stroke-linejoin="miter"/>
<polygon points="78.82,262.2 75.62,267.7 82.02,267.7" fill="#fff" stroke="#ff8a0a" stroke-width="1.4" stroke-linejoin="miter"/>
<polygon points="104.3,274.86 101.1,280.36 107.5,280.36" fill="#fff" stroke="#ff8a0a" stroke-width="1.4" stroke-linejoin="miter"/>
<polygon points="129.78,284.25 126.58,289.75 132.98,289.75" fill="#fff" stroke="#ff8a0a" stroke-width="1.4" stroke-linejoin="miter"/>
<polygon points="155.26,290.58 152.06,296.08 158.46,296.08" fill="#fff" stroke="#ff8a0a" stroke-width="1.4" stroke-linejoin="miter"/>
<circle cx="53.34" cy="259.77" r="2.3" fill="#646464"/>
<circle cx="78.82" cy="275.25" r="2.3" fill="#646464"/>
<circle cx="104.3" cy="288.39" r="2.3" fill="#646464"/>
<circle cx="129.78" cy="297.3" r="2.3" fill="#646464"/>
<circle cx="155.26" cy="305.75" r="2.3" fill="#646464"/>
<g font-family='"Liberation Sans", sans-serif' font-size="8.4" fill="#555555" font-weight="bold"><text transform="scale(0.84,1)" x="31.03 36.18 40.91" y="318.81">0.5</text><text transform="scale(0.84,1)" x="26.09 31.24 35.97 40.91" y="295.35">0.55</text><text transform="scale(0.84,1)" x="31.03 36.18 40.91" y="271.89">0.6</text><text transform="scale(0.84,1)" x="26.09 31.24 35.97 40.91" y="248.43">0.65</text><text transform="scale(0.84,1)" x="31.03 36.18 40.91" y="224.97">0.7</text><text transform="scale(0.84,1)" x="26.09 31.24 35.97 40.91" y="201.51">0.75</text><text transform="scale(0.84,1)" x="56.22 61.16 64.71" y="326.71">30%</text><text transform="scale(0.84,1)" x="86.56 91.50 95.04" y="326.71">40%</text><text transform="scale(0.84,1)" x="116.89 121.83 125.37" y="326.71">50%</text><text transform="scale(0.84,1)" x="147.22 152.16 155.71" y="326.71">60%</text><text transform="scale(0.84,1)" x="177.56 182.50 186.04" y="326.71">70%</text></g>
<g font-family='"Liberation Mono", monospace' font-size="8.3" fill="#333333" font-weight="normal" stroke="#333333" stroke-width="0.25"><text x="77" y="336.93" textLength="54.6" lengthAdjust="spacingAndGlyphs">Data Sparsity</text><g transform="translate(14.53,267.11) rotate(-90)"><text x="0" y="0" textLength="16.92" lengthAdjust="spacingAndGlyphs">nDCG</text></g><g transform="translate(19.03,249.99) rotate(-90)" font-size="6.6" stroke="#333" stroke-width="0.25"><text x="0" y="0" textLength="3.4" lengthAdjust="spacingAndGlyphs">3</text></g></g>
<rect x="170.3" y="198.2" width="46.9" height="101.2" fill="#fff" stroke="#e0e0e0" stroke-width="1.3"/>
<line x1="171.9" y1="203.8" x2="181.7" y2="203.8" stroke="#f01414" stroke-width="1.5"/><rect x="174.85" y="201.85" width="3.9" height="3.9" fill="#fff" stroke="#f01414" stroke-width="1.5"/><line x1="171.9" y1="213.87" x2="181.7" y2="213.87" stroke="#14e614" stroke-width="1.5"/><circle cx="176.8" cy="213.87" r="2.6" fill="#fff" stroke="#14e614" stroke-width="1.5"/><line x1="171.9" y1="223.94" x2="181.7" y2="223.94" stroke="#1414f0" stroke-width="1.6" stroke-dasharray="4.4,1.2,1.8,1.2"/><polygon points="180,223.94 175,221.24 175,226.64" fill="#fff" stroke="#1414f0" stroke-width="1.6" stroke-linejoin="miter"/><line x1="171.9" y1="234.01" x2="181.7" y2="234.01" stroke="#3c9ad2" stroke-width="1.3" stroke-dasharray="3.4,1.2,1.2,1.2"/><rect x="174.85" y="232.06" width="3.9" height="3.9" fill="#fff" stroke="#3c9ad2" stroke-width="1.3"/><line x1="171.9" y1="244.08" x2="181.7" y2="244.08" stroke="#2ec42e" stroke-width="1.3" stroke-dasharray="3,1.8"/><polygon points="176.8,240.98 179,244.08 176.8,247.18 174.6,244.08" fill="#fff" stroke="#2ec42e" stroke-width="1.3"/><line x1="171.9" y1="254.15" x2="181.7" y2="254.15" stroke="#dc8c46" stroke-width="1.2" stroke-dasharray="2.4,1.6"/><rect x="174.85" y="252.2" width="3.9" height="3.9" fill="#fff" stroke="#dc8c46" stroke-width="1.2"/><line x1="171.9" y1="264.22" x2="181.7" y2="264.22" stroke="#dc64dc" stroke-width="1.3" stroke-dasharray="3,1.8"/><polygon points="173.8,264.22 179.4,261.42 179.4,267.02" fill="#fff" stroke="#dc64dc" stroke-width="1.3" stroke-linejoin="miter"/><line x1="171.9" y1="274.29" x2="181.7" y2="274.29" stroke="#8c1464" stroke-width="1.3" stroke-dasharray="1,1.1"/><polygon points="176.8,270.69 177.68,273.08 180.22,273.18 178.23,274.75 178.92,277.2 176.8,275.79 174.68,277.2 175.37,274.75 173.38,273.18 175.92,273.08" fill="#8c1464" stroke="#8c1464" stroke-width="0.6"/><line x1="171.9" y1="284.36" x2="181.7" y2="284.36" stroke="#ff8a0a" stroke-width="1.4" stroke-dasharray="1,1.1"/><polygon points="176.8,281.16 173.6,286.66 180,286.66" fill="#fff" stroke="#ff8a0a" stroke-width="1.4" stroke-linejoin="miter"/><line x1="171.9" y1="294.43" x2="181.7" y2="294.43" stroke="#646464" stroke-width="1.6" stroke-dasharray="4.5,3.2"/><circle cx="176.8" cy="294.43" r="2.3" fill="#646464"/>
<g font-family='"Liberation Mono", monospace' font-size="8.3" fill="#262626" font-weight="normal" stroke="#262626" stroke-width="0.3"><text x="182.7" y="206.78" textLength="33.2" lengthAdjust="spacingAndGlyphs">Ours–bpr</text><text x="182.7" y="216.85" textLength="33.2" lengthAdjust="spacingAndGlyphs">Ours–mse</text><text x="182.7" y="226.92" textLength="24.9" lengthAdjust="spacingAndGlyphs">CMF–UL</text><text x="182.7" y="236.99" textLength="20.75" lengthAdjust="spacingAndGlyphs">CMF–U</text><text x="182.7" y="247.06" textLength="20.75" lengthAdjust="spacingAndGlyphs">CMF–L</text><text x="182.7" y="257.13" textLength="8.3" lengthAdjust="spacingAndGlyphs">SR</text><text x="182.7" y="267.2" textLength="20.75" lengthAdjust="spacingAndGlyphs">SoRec</text><text x="182.7" y="277.27" textLength="8.3" lengthAdjust="spacingAndGlyphs">MF</text><text x="182.7" y="287.34" textLength="12.45" lengthAdjust="spacingAndGlyphs">SVD</text><text x="182.7" y="297.41" textLength="12.45" lengthAdjust="spacingAndGlyphs">KNN</text></g>
<text x="118.9" y="355.5" text-anchor="middle" font-family='"Liberation Serif", serif' font-weight="bold" font-size="11.6" fill="#1a1a1a" stroke="#1a1a1a" stroke-width="0.2">(c)</text>
<g stroke="#f3f3f3" stroke-width="0.8"><line x1="280.82" y1="198.3" x2="280.82" y2="315.5"/><line x1="307.06" y1="198.3" x2="307.06" y2="315.5"/><line x1="333.3" y1="198.3" x2="333.3" y2="315.5"/><line x1="359.54" y1="198.3" x2="359.54" y2="315.5"/><line x1="385.78" y1="198.3" x2="385.78" y2="315.5"/><line x1="267.7" y1="295.97" x2="398.9" y2="295.97"/><line x1="267.7" y1="276.43" x2="398.9" y2="276.43"/><line x1="267.7" y1="256.9" x2="398.9" y2="256.9"/><line x1="267.7" y1="237.37" x2="398.9" y2="237.37"/><line x1="267.7" y1="217.83" x2="398.9" y2="217.83"/></g>
<rect x="267.9" y="198.4" width="131" height="117.2" fill="none" stroke="#e0e0e0" stroke-width="1.4"/>
<g stroke="#b0b0b0" stroke-width="0.8"><line x1="280.82" y1="315.5" x2="280.82" y2="314.2"/><line x1="307.06" y1="315.5" x2="307.06" y2="314.2"/><line x1="333.3" y1="315.5" x2="333.3" y2="314.2"/><line x1="359.54" y1="315.5" x2="359.54" y2="314.2"/><line x1="385.78" y1="315.5" x2="385.78" y2="314.2"/><line x1="267.7" y1="315.5" x2="269" y2="315.5"/><line x1="267.7" y1="295.97" x2="269" y2="295.97"/><line x1="267.7" y1="276.43" x2="269" y2="276.43"/><line x1="267.7" y1="256.9" x2="269" y2="256.9"/><line x1="267.7" y1="237.37" x2="269" y2="237.37"/><line x1="267.7" y1="217.83" x2="269" y2="217.83"/><line x1="267.7" y1="198.3" x2="269" y2="198.3"/></g>
<polyline points="280.82,209.24 307.06,217.05 333.3,219.59 359.54,222.13 385.78,224.87" fill="none" stroke="#f01414" stroke-width="1.5"/>
<polyline points="280.82,208.85 307.06,215.29 333.3,225.26 359.54,230.73 385.78,231.9" fill="none" stroke="#14e614" stroke-width="1.5"/>
<polyline points="280.82,217.05 307.06,226.43 333.3,235.61 359.54,247.52 385.78,265.1" fill="none" stroke="#1414f0" stroke-width="1.6" stroke-dasharray="4.4,1.2,1.8,1.2"/>
<polyline points="280.82,221.35 307.06,233.46 333.3,246.35 359.54,257.68 385.78,272.53" fill="none" stroke="#3c9ad2" stroke-width="1.3" stroke-dasharray="3.4,1.2,1.2,1.2"/>
<polyline points="280.82,220.96 307.06,233.07 333.3,245.96 359.54,258.46 385.78,273.31" fill="none" stroke="#2ec42e" stroke-width="1.3" stroke-dasharray="3,1.8"/>
<polyline points="280.82,222.91 307.06,235.41 333.3,249.87 359.54,260.81 385.78,278.39" fill="none" stroke="#dc8c46" stroke-width="1.2" stroke-dasharray="2.4,1.6"/>
<polyline points="280.82,222.52 307.06,234.63 333.3,249.48 359.54,263.93 385.78,280.34" fill="none" stroke="#dc64dc" stroke-width="1.3" stroke-dasharray="3,1.8"/>
<polyline points="280.82,222.13 307.06,235.8 333.3,250.26 359.54,261.39 385.78,276.04" fill="none" stroke="#8c1464" stroke-width="1.3" stroke-dasharray="1,1.1"/>
<polyline points="280.82,224.47 307.06,238.54 333.3,254.17 359.54,269.01 385.78,284.25" fill="none" stroke="#ff8a0a" stroke-width="1.4" stroke-dasharray="1,1.1"/>
<polyline points="280.82,229.94 307.06,251.82 333.3,269.01 359.54,287.76 385.78,305.34" fill="none" stroke="#646464" stroke-width="1.6" stroke-dasharray="4.5,3.2"/>
<rect x="278.87" y="207.29" width="3.9" height="3.9" fill="#fff" stroke="#f01414" stroke-width="1.5"/>
<rect x="305.11" y="215.1" width="3.9" height="3.9" fill="#fff" stroke="#f01414" stroke-width="1.5"/>
<rect x="331.35" y="217.64" width="3.9" height="3.9" fill="#fff" stroke="#f01414" stroke-width="1.5"/>
<rect x="357.59" y="220.18" width="3.9" height="3.9" fill="#fff" stroke="#f01414" stroke-width="1.5"/>
<rect x="383.83" y="222.92" width="3.9" height="3.9" fill="#fff" stroke="#f01414" stroke-width="1.5"/>
<circle cx="280.82" cy="208.85" r="2.6" fill="#fff" stroke="#14e614" stroke-width="1.5"/>
<circle cx="307.06" cy="215.29" r="2.6" fill="#fff" stroke="#14e614" stroke-width="1.5"/>
<circle cx="333.3" cy="225.26" r="2.6" fill="#fff" stroke="#14e614" stroke-width="1.5"/>
<circle cx="359.54" cy="230.73" r="2.6" fill="#fff" stroke="#14e614" stroke-width="1.5"/>
<circle cx="385.78" cy="231.9" r="2.6" fill="#fff" stroke="#14e614" stroke-width="1.5"/>
<polygon points="284.02,217.05 279.02,214.35 279.02,219.75" fill="#fff" stroke="#1414f0" stroke-width="1.6" stroke-linejoin="miter"/>
<polygon points="310.26,226.43 305.26,223.73 305.26,229.13" fill="#fff" stroke="#1414f0" stroke-width="1.6" stroke-linejoin="miter"/>
<polygon points="336.5,235.61 331.5,232.91 331.5,238.31" fill="#fff" stroke="#1414f0" stroke-width="1.6" stroke-linejoin="miter"/>
<polygon points="362.74,247.52 357.74,244.82 357.74,250.22" fill="#fff" stroke="#1414f0" stroke-width="1.6" stroke-linejoin="miter"/>
<polygon points="388.98,265.1 383.98,262.4 383.98,267.8" fill="#fff" stroke="#1414f0" stroke-width="1.6" stroke-linejoin="miter"/>
<rect x="278.87" y="219.4" width="3.9" height="3.9" fill="#fff" stroke="#3c9ad2" stroke-width="1.3"/>
<rect x="305.11" y="231.51" width="3.9" height="3.9" fill="#fff" stroke="#3c9ad2" stroke-width="1.3"/>
<rect x="331.35" y="244.4" width="3.9" height="3.9" fill="#fff" stroke="#3c9ad2" stroke-width="1.3"/>
<rect x="357.59" y="255.73" width="3.9" height="3.9" fill="#fff" stroke="#3c9ad2" stroke-width="1.3"/>
<rect x="383.83" y="270.58" width="3.9" height="3.9" fill="#fff" stroke="#3c9ad2" stroke-width="1.3"/>
<polygon points="280.82,217.86 283.02,220.96 280.82,224.06 278.62,220.96" fill="#fff" stroke="#2ec42e" stroke-width="1.3"/>
<polygon points="307.06,229.97 309.26,233.07 307.06,236.17 304.86,233.07" fill="#fff" stroke="#2ec42e" stroke-width="1.3"/>
<polygon points="333.3,242.86 335.5,245.96 333.3,249.06 331.1,245.96" fill="#fff" stroke="#2ec42e" stroke-width="1.3"/>
<polygon points="359.54,255.36 361.74,258.46 359.54,261.56 357.34,258.46" fill="#fff" stroke="#2ec42e" stroke-width="1.3"/>
<polygon points="385.78,270.21 387.98,273.31 385.78,276.41 383.58,273.31" fill="#fff" stroke="#2ec42e" stroke-width="1.3"/>
<rect x="278.87" y="220.96" width="3.9" height="3.9" fill="#fff" stroke="#dc8c46" stroke-width="1.2"/>
<rect x="305.11" y="233.46" width="3.9" height="3.9" fill="#fff" stroke="#dc8c46" stroke-width="1.2"/>
<rect x="331.35" y="247.92" width="3.9" height="3.9" fill="#fff" stroke="#dc8c46" stroke-width="1.2"/>
<rect x="357.59" y="258.86" width="3.9" height="3.9" fill="#fff" stroke="#dc8c46" stroke-width="1.2"/>
<rect x="383.83" y="276.44" width="3.9" height="3.9" fill="#fff" stroke="#dc8c46" stroke-width="1.2"/>
<polygon points="277.82,222.52 283.42,219.72 283.42,225.32" fill="#fff" stroke="#dc64dc" stroke-width="1.3" stroke-linejoin="miter"/>
<polygon points="304.06,234.63 309.66,231.83 309.66,237.43" fill="#fff" stroke="#dc64dc" stroke-width="1.3" stroke-linejoin="miter"/>
<polygon points="330.3,249.48 335.9,246.68 335.9,252.28" fill="#fff" stroke="#dc64dc" stroke-width="1.3" stroke-linejoin="miter"/>
<polygon points="356.54,263.93 362.14,261.13 362.14,266.73" fill="#fff" stroke="#dc64dc" stroke-width="1.3" stroke-linejoin="miter"/>
<polygon points="382.78,280.34 388.38,277.54 388.38,283.14" fill="#fff" stroke="#dc64dc" stroke-width="1.3" stroke-linejoin="miter"/>
<polygon points="280.82,218.53 281.7,220.92 284.24,221.02 282.25,222.59 282.94,225.04 280.82,223.63 278.7,225.04 279.39,222.59 277.4,221.02 279.94,220.92" fill="#8c1464" stroke="#8c1464" stroke-width="0.6"/>
<polygon points="307.06,232.2 307.94,234.59 310.48,234.69 308.49,236.27 309.18,238.72 307.06,237.3 304.94,238.72 305.63,236.27 303.64,234.69 306.18,234.59" fill="#8c1464" stroke="#8c1464" stroke-width="0.6"/>
<polygon points="333.3,246.66 334.18,249.05 336.72,249.15 334.73,250.72 335.42,253.17 333.3,251.76 331.18,253.17 331.87,250.72 329.88,249.15 332.42,249.05" fill="#8c1464" stroke="#8c1464" stroke-width="0.6"/>
<polygon points="359.54,257.79 360.42,260.18 362.96,260.28 360.97,261.86 361.66,264.31 359.54,262.89 357.42,264.31 358.11,261.86 356.12,260.28 358.66,260.18" fill="#8c1464" stroke="#8c1464" stroke-width="0.6"/>
<polygon points="385.78,272.44 386.66,274.83 389.2,274.93 387.21,276.51 387.9,278.96 385.78,277.54 383.66,278.96 384.35,276.51 382.36,274.93 384.9,274.83" fill="#8c1464" stroke="#8c1464" stroke-width="0.6"/>
<polygon points="280.82,221.27 277.62,226.77 284.02,226.77" fill="#fff" stroke="#ff8a0a" stroke-width="1.4" stroke-linejoin="miter"/>
<polygon points="307.06,235.34 303.86,240.84 310.26,240.84" fill="#fff" stroke="#ff8a0a" stroke-width="1.4" stroke-linejoin="miter"/>
<polygon points="333.3,250.97 330.1,256.47 336.5,256.47" fill="#fff" stroke="#ff8a0a" stroke-width="1.4" stroke-linejoin="miter"/>
<polygon points="359.54,265.81 356.34,271.31 362.74,271.31" fill="#fff" stroke="#ff8a0a" stroke-width="1.4" stroke-linejoin="miter"/>
<polygon points="385.78,281.05 382.58,286.55 388.98,286.55" fill="#fff" stroke="#ff8a0a" stroke-width="1.4" stroke-linejoin="miter"/>
<circle cx="280.82" cy="229.94" r="2.3" fill="#646464"/>
<circle cx="307.06" cy="251.82" r="2.3" fill="#646464"/>
<circle cx="333.3" cy="269.01" r="2.3" fill="#646464"/>
<circle cx="359.54" cy="287.76" r="2.3" fill="#646464"/>
<circle cx="385.78" cy="305.34" r="2.3" fill="#646464"/>
<g font-family='"Liberation Sans", sans-serif' font-size="8.4" fill="#555555" font-weight="bold"><text transform="scale(0.84,1)" x="301.38 306.54 311.27" y="318.71">0.7</text><text transform="scale(0.84,1)" x="296.44 301.60 306.32 311.27" y="299.17">0.75</text><text transform="scale(0.84,1)" x="301.38 306.54 311.27" y="279.64">0.8</text><text transform="scale(0.84,1)" x="296.44 301.60 306.32 311.27" y="260.11">0.85</text><text transform="scale(0.84,1)" x="301.38 306.54 311.27" y="240.57">0.9</text><text transform="scale(0.84,1)" x="296.44 301.60 306.32 311.27" y="221.04">0.95</text><text transform="scale(0.84,1)" x="311.27" y="201.51">1</text><text transform="scale(0.84,1)" x="327.03 331.97 335.52" y="326.61">30%</text><text transform="scale(0.84,1)" x="358.27 363.21 366.75" y="326.61">40%</text><text transform="scale(0.84,1)" x="389.51 394.45 397.99" y="326.61">50%</text><text transform="scale(0.84,1)" x="420.75 425.69 429.23" y="326.61">60%</text><text transform="scale(0.84,1)" x="451.99 456.93 460.47" y="326.61">70%</text></g>
<g font-family='"Liberation Mono", monospace' font-size="8.3" fill="#333333" font-weight="normal" stroke="#333333" stroke-width="0.25"><text x="306" y="336.83" textLength="54.6" lengthAdjust="spacingAndGlyphs">Data Sparsity</text><g transform="translate(246.83,282.28) rotate(-90)"><text x="0" y="0" textLength="50.76" lengthAdjust="spacingAndGlyphs">Top5 Hitrate</text></g></g>
<rect x="401.1" y="198.2" width="47.1" height="101.5" fill="#fff" stroke="#e0e0e0" stroke-width="1.3"/>
<line x1="402.7" y1="203.5" x2="412.5" y2="203.5" stroke="#f01414" stroke-width="1.5"/><rect x="405.65" y="201.55" width="3.9" height="3.9" fill="#fff" stroke="#f01414" stroke-width="1.5"/><line x1="402.7" y1="213.57" x2="412.5" y2="213.57" stroke="#14e614" stroke-width="1.5"/><circle cx="407.6" cy="213.57" r="2.6" fill="#fff" stroke="#14e614" stroke-width="1.5"/><line x1="402.7" y1="223.64" x2="412.5" y2="223.64" stroke="#1414f0" stroke-width="1.6" stroke-dasharray="4.4,1.2,1.8,1.2"/><polygon points="410.8,223.64 405.8,220.94 405.8,226.34" fill="#fff" stroke="#1414f0" stroke-width="1.6" stroke-linejoin="miter"/><line x1="402.7" y1="233.71" x2="412.5" y2="233.71" stroke="#3c9ad2" stroke-width="1.3" stroke-dasharray="3.4,1.2,1.2,1.2"/><rect x="405.65" y="231.76" width="3.9" height="3.9" fill="#fff" stroke="#3c9ad2" stroke-width="1.3"/><line x1="402.7" y1="243.78" x2="412.5" y2="243.78" stroke="#2ec42e" stroke-width="1.3" stroke-dasharray="3,1.8"/><polygon points="407.6,240.68 409.8,243.78 407.6,246.88 405.4,243.78" fill="#fff" stroke="#2ec42e" stroke-width="1.3"/><line x1="402.7" y1="253.85" x2="412.5" y2="253.85" stroke="#dc8c46" stroke-width="1.2" stroke-dasharray="2.4,1.6"/><rect x="405.65" y="251.9" width="3.9" height="3.9" fill="#fff" stroke="#dc8c46" stroke-width="1.2"/><line x1="402.7" y1="263.92" x2="412.5" y2="263.92" stroke="#dc64dc" stroke-width="1.3" stroke-dasharray="3,1.8"/><polygon points="404.6,263.92 410.2,261.12 410.2,266.72" fill="#fff" stroke="#dc64dc" stroke-width="1.3" stroke-linejoin="miter"/><line x1="402.7" y1="273.99" x2="412.5" y2="273.99" stroke="#8c1464" stroke-width="1.3" stroke-dasharray="1,1.1"/><polygon points="407.6,270.39 408.48,272.78 411.02,272.88 409.03,274.45 409.72,276.9 407.6,275.49 405.48,276.9 406.17,274.45 404.18,272.88 406.72,272.78" fill="#8c1464" stroke="#8c1464" stroke-width="0.6"/><line x1="402.7" y1="284.06" x2="412.5" y2="284.06" stroke="#ff8a0a" stroke-width="1.4" stroke-dasharray="1,1.1"/><polygon points="407.6,280.86 404.4,286.36 410.8,286.36" fill="#fff" stroke="#ff8a0a" stroke-width="1.4" stroke-linejoin="miter"/><line x1="402.7" y1="294.13" x2="412.5" y2="294.13" stroke="#646464" stroke-width="1.6" stroke-dasharray="4.5,3.2"/><circle cx="407.6" cy="294.13" r="2.3" fill="#646464"/>
<g font-family='"Liberation Mono", monospace' font-size="8.3" fill="#262626" font-weight="normal" stroke="#262626" stroke-width="0.3"><text x="413.5" y="206.48" textLength="33.2" lengthAdjust="spacingAndGlyphs">Ours–bpr</text><text x="413.5" y="216.55" textLength="33.2" lengthAdjust="spacingAndGlyphs">Ours–mse</text><text x="413.5" y="226.62" textLength="24.9" lengthAdjust="spacingAndGlyphs">CMF–UL</text><text x="413.5" y="236.69" textLength="20.75" lengthAdjust="spacingAndGlyphs">CMF–U</text><text x="413.5" y="246.76" textLength="20.75" lengthAdjust="spacingAndGlyphs">CMF–L</text><text x="413.5" y="256.83" textLength="8.3" lengthAdjust="spacingAndGlyphs">SR</text><text x="413.5" y="266.9" textLength="20.75" lengthAdjust="spacingAndGlyphs">SoRec</text><text x="413.5" y="276.97" textLength="8.3" lengthAdjust="spacingAndGlyphs">MF</text><text x="413.5" y="287.04" textLength="12.45" lengthAdjust="spacingAndGlyphs">SVD</text><text x="413.5" y="297.11" textLength="12.45" lengthAdjust="spacingAndGlyphs">KNN</text></g>
<text x="349.9" y="355.5" text-anchor="middle" font-family='"Liberation Serif", serif' font-weight="bold" font-size="11.6" fill="#1a1a1a" stroke="#1a1a1a" stroke-width="0.2">(d)</text>
<g stroke="#f3f3f3" stroke-width="0.8"><line x1="50.39" y1="385.9" x2="50.39" y2="503.5"/><line x1="76.57" y1="385.9" x2="76.57" y2="503.5"/><line x1="102.75" y1="385.9" x2="102.75" y2="503.5"/><line x1="128.93" y1="385.9" x2="128.93" y2="503.5"/><line x1="155.11" y1="385.9" x2="155.11" y2="503.5"/><line x1="37.3" y1="474.1" x2="168.2" y2="474.1"/><line x1="37.3" y1="444.7" x2="168.2" y2="444.7"/><line x1="37.3" y1="415.3" x2="168.2" y2="415.3"/></g>
<rect x="37.5" y="386" width="130.7" height="117.6" fill="none" stroke="#e0e0e0" stroke-width="1.4"/>
<g stroke="#b0b0b0" stroke-width="0.8"><line x1="50.39" y1="503.5" x2="50.39" y2="502.2"/><line x1="76.57" y1="503.5" x2="76.57" y2="502.2"/><line x1="102.75" y1="503.5" x2="102.75" y2="502.2"/><line x1="128.93" y1="503.5" x2="128.93" y2="502.2"/><line x1="155.11" y1="503.5" x2="155.11" y2="502.2"/><line x1="37.3" y1="503.5" x2="38.6" y2="503.5"/><line x1="37.3" y1="474.1" x2="38.6" y2="474.1"/><line x1="37.3" y1="444.7" x2="38.6" y2="444.7"/><line x1="37.3" y1="415.3" x2="38.6" y2="415.3"/><line x1="37.3" y1="385.9" x2="38.6" y2="385.9"/></g>
<polyline points="50.39,405.45 76.57,420.8 102.75,429.71 128.93,438.14 155.11,443.05" fill="none" stroke="#f01414" stroke-width="1.5"/>
<polyline points="50.39,405.45 76.57,420.8 102.75,435.29 128.93,445.05 155.11,451.87" fill="none" stroke="#14e614" stroke-width="1.5"/>
<polyline points="50.39,416.77 76.57,434.7 102.75,447.35 128.93,461.28 155.11,474.34" fill="none" stroke="#1414f0" stroke-width="1.6" stroke-dasharray="4.4,1.2,1.8,1.2"/>
<polyline points="50.39,421.18 76.57,438.82 102.75,454.7 128.93,468.22 155.11,479.39" fill="none" stroke="#3c9ad2" stroke-width="1.3" stroke-dasharray="3.4,1.2,1.2,1.2"/>
<polyline points="50.39,420.59 76.57,438.23 102.75,454.4 128.93,467.93 155.11,480.27" fill="none" stroke="#2ec42e" stroke-width="1.3" stroke-dasharray="3,1.8"/>
<polyline points="50.39,422.65 76.57,440.58 102.75,456.17 128.93,469.1 155.11,481.16" fill="none" stroke="#dc8c46" stroke-width="1.2" stroke-dasharray="2.4,1.6"/>
<polyline points="50.39,422.06 76.57,440 102.75,456.46 128.93,469.4 155.11,481.74" fill="none" stroke="#dc64dc" stroke-width="1.3" stroke-dasharray="3,1.8"/>
<polyline points="50.39,422.06 76.57,440.29 102.75,456.75 128.93,469.69 155.11,481.16" fill="none" stroke="#8c1464" stroke-width="1.3" stroke-dasharray="1,1.1"/>
<polyline points="50.39,423.09 76.57,443.52 102.75,459.11 128.93,472.92 155.11,484.98" fill="none" stroke="#ff8a0a" stroke-width="1.4" stroke-dasharray="1,1.1"/>
<polyline points="50.39,426.18 76.57,447.64 102.75,463.52 128.93,477.33 155.11,490.56" fill="none" stroke="#646464" stroke-width="1.6" stroke-dasharray="4.5,3.2"/>
<rect x="48.44" y="403.5" width="3.9" height="3.9" fill="#fff" stroke="#f01414" stroke-width="1.5"/>
<rect x="74.62" y="418.85" width="3.9" height="3.9" fill="#fff" stroke="#f01414" stroke-width="1.5"/>
<rect x="100.8" y="427.76" width="3.9" height="3.9" fill="#fff" stroke="#f01414" stroke-width="1.5"/>
<rect x="126.98" y="436.19" width="3.9" height="3.9" fill="#fff" stroke="#f01414" stroke-width="1.5"/>
<rect x="153.16" y="441.1" width="3.9" height="3.9" fill="#fff" stroke="#f01414" stroke-width="1.5"/>
<circle cx="50.39" cy="405.45" r="2.6" fill="#fff" stroke="#14e614" stroke-width="1.5"/>
<circle cx="76.57" cy="420.8" r="2.6" fill="#fff" stroke="#14e614" stroke-width="1.5"/>
<circle cx="102.75" cy="435.29" r="2.6" fill="#fff" stroke="#14e614" stroke-width="1.5"/>
<circle cx="128.93" cy="445.05" r="2.6" fill="#fff" stroke="#14e614" stroke-width="1.5"/>
<circle cx="155.11" cy="451.87" r="2.6" fill="#fff" stroke="#14e614" stroke-width="1.5"/>
<polygon points="53.59,416.77 48.59,414.07 48.59,419.47" fill="#fff" stroke="#1414f0" stroke-width="1.6" stroke-linejoin="miter"/>
<polygon points="79.77,434.7 74.77,432 74.77,437.4" fill="#fff" stroke="#1414f0" stroke-width="1.6" stroke-linejoin="miter"/>
<polygon points="105.95,447.35 100.95,444.65 100.95,450.05" fill="#fff" stroke="#1414f0" stroke-width="1.6" stroke-linejoin="miter"/>
<polygon points="132.13,461.28 127.13,458.58 127.13,463.98" fill="#fff" stroke="#1414f0" stroke-width="1.6" stroke-linejoin="miter"/>
<polygon points="158.31,474.34 153.31,471.64 153.31,477.04" fill="#fff" stroke="#1414f0" stroke-width="1.6" stroke-linejoin="miter"/>
<rect x="48.44" y="419.23" width="3.9" height="3.9" fill="#fff" stroke="#3c9ad2" stroke-width="1.3"/>
<rect x="74.62" y="436.87" width="3.9" height="3.9" fill="#fff" stroke="#3c9ad2" stroke-width="1.3"/>
<rect x="100.8" y="452.75" width="3.9" height="3.9" fill="#fff" stroke="#3c9ad2" stroke-width="1.3"/>
<rect x="126.98" y="466.27" width="3.9" height="3.9" fill="#fff" stroke="#3c9ad2" stroke-width="1.3"/>
<rect x="153.16" y="477.44" width="3.9" height="3.9" fill="#fff" stroke="#3c9ad2" stroke-width="1.3"/>
<polygon points="50.39,417.49 52.59,420.59 50.39,423.69 48.19,420.59" fill="#fff" stroke="#2ec42e" stroke-width="1.3"/>
<polygon points="76.57,435.13 78.77,438.23 76.57,441.33 74.37,438.23" fill="#fff" stroke="#2ec42e" stroke-width="1.3"/>
<polygon points="102.75,451.3 104.95,454.4 102.75,457.5 100.55,454.4" fill="#fff" stroke="#2ec42e" stroke-width="1.3"/>
<polygon points="128.93,464.83 131.13,467.93 128.93,471.03 126.73,467.93" fill="#fff" stroke="#2ec42e" stroke-width="1.3"/>
<polygon points="155.11,477.17 157.31,480.27 155.11,483.37 152.91,480.27" fill="#fff" stroke="#2ec42e" stroke-width="1.3"/>
<rect x="48.44" y="420.7" width="3.9" height="3.9" fill="#fff" stroke="#dc8c46" stroke-width="1.2"/>
<rect x="74.62" y="438.63" width="3.9" height="3.9" fill="#fff" stroke="#dc8c46" stroke-width="1.2"/>
<rect x="100.8" y="454.22" width="3.9" height="3.9" fill="#fff" stroke="#dc8c46" stroke-width="1.2"/>
<rect x="126.98" y="467.15" width="3.9" height="3.9" fill="#fff" stroke="#dc8c46" stroke-width="1.2"/>
<rect x="153.16" y="479.21" width="3.9" height="3.9" fill="#fff" stroke="#dc8c46" stroke-width="1.2"/>
<polygon points="47.39,422.06 52.99,419.26 52.99,424.86" fill="#fff" stroke="#dc64dc" stroke-width="1.3" stroke-linejoin="miter"/>
<polygon points="73.57,440 79.17,437.2 79.17,442.8" fill="#fff" stroke="#dc64dc" stroke-width="1.3" stroke-linejoin="miter"/>
<polygon points="99.75,456.46 105.35,453.66 105.35,459.26" fill="#fff" stroke="#dc64dc" stroke-width="1.3" stroke-linejoin="miter"/>
<polygon points="125.93,469.4 131.53,466.6 131.53,472.2" fill="#fff" stroke="#dc64dc" stroke-width="1.3" stroke-linejoin="miter"/>
<polygon points="152.11,481.74 157.71,478.94 157.71,484.54" fill="#fff" stroke="#dc64dc" stroke-width="1.3" stroke-linejoin="miter"/>
<polygon points="50.39,418.46 51.27,420.85 53.81,420.95 51.82,422.53 52.51,424.97 50.39,423.56 48.27,424.97 48.96,422.53 46.97,420.95 49.51,420.85" fill="#8c1464" stroke="#8c1464" stroke-width="0.6"/>
<polygon points="76.57,436.69 77.45,439.08 79.99,439.18 78,440.75 78.69,443.2 76.57,441.79 74.45,443.2 75.14,440.75 73.15,439.18 75.69,439.08" fill="#8c1464" stroke="#8c1464" stroke-width="0.6"/>
<polygon points="102.75,453.15 103.63,455.54 106.17,455.64 104.18,457.22 104.87,459.67 102.75,458.25 100.63,459.67 101.32,457.22 99.33,455.64 101.87,455.54" fill="#8c1464" stroke="#8c1464" stroke-width="0.6"/>
<polygon points="128.93,466.09 129.81,468.48 132.35,468.58 130.36,470.15 131.05,472.6 128.93,471.19 126.81,472.6 127.5,470.15 125.51,468.58 128.05,468.48" fill="#8c1464" stroke="#8c1464" stroke-width="0.6"/>
<polygon points="155.11,477.56 155.99,479.94 158.53,480.04 156.54,481.62 157.23,484.07 155.11,482.66 152.99,484.07 153.68,481.62 151.69,480.04 154.23,479.94" fill="#8c1464" stroke="#8c1464" stroke-width="0.6"/>
<polygon points="50.39,419.89 47.19,425.39 53.59,425.39" fill="#fff" stroke="#ff8a0a" stroke-width="1.4" stroke-linejoin="miter"/>
<polygon points="76.57,440.32 73.37,445.82 79.77,445.82" fill="#fff" stroke="#ff8a0a" stroke-width="1.4" stroke-linejoin="miter"/>
<polygon points="102.75,455.91 99.55,461.41 105.95,461.41" fill="#fff" stroke="#ff8a0a" stroke-width="1.4" stroke-linejoin="miter"/>
<polygon points="128.93,469.72 125.73,475.22 132.13,475.22" fill="#fff" stroke="#ff8a0a" stroke-width="1.4" stroke-linejoin="miter"/>
<polygon points="155.11,481.78 151.91,487.28 158.31,487.28" fill="#fff" stroke="#ff8a0a" stroke-width="1.4" stroke-linejoin="miter"/>
<circle cx="50.39" cy="426.18" r="2.3" fill="#646464"/>
<circle cx="76.57" cy="447.64" r="2.3" fill="#646464"/>
<circle cx="102.75" cy="463.52" r="2.3" fill="#646464"/>
<circle cx="128.93" cy="477.33" r="2.3" fill="#646464"/>
<circle cx="155.11" cy="490.56" r="2.3" fill="#646464"/>
<g font-family='"Liberation Sans", sans-serif' font-size="8.4" fill="#555555" font-weight="bold"><text transform="scale(0.84,1)" x="22.16 27.32 32.04 36.98" y="506.71">0.25</text><text transform="scale(0.84,1)" x="22.16 27.32 32.04 36.98" y="477.31">0.35</text><text transform="scale(0.84,1)" x="22.16 27.32 32.04 36.98" y="447.91">0.45</text><text transform="scale(0.84,1)" x="22.16 27.32 32.04 36.98" y="418.51">0.55</text><text transform="scale(0.84,1)" x="22.16 27.32 32.04 36.98" y="389.11">0.65</text><text transform="scale(0.84,1)" x="52.71 57.65 61.19" y="514.61">30%</text><text transform="scale(0.84,1)" x="83.88 88.82 92.36" y="514.61">40%</text><text transform="scale(0.84,1)" x="115.05 119.99 123.53" y="514.61">50%</text><text transform="scale(0.84,1)" x="146.21 151.15 154.69" y="514.61">60%</text><text transform="scale(0.84,1)" x="177.38 182.32 185.86" y="514.61">70%</text></g>
<g font-family='"Liberation Mono", monospace' font-size="8.3" fill="#333333" font-weight="normal" stroke="#333333" stroke-width="0.25"><text x="75.45" y="524.83" textLength="54.6" lengthAdjust="spacingAndGlyphs">Data Sparsity</text><g transform="translate(15.73,472.19) rotate(-90)"><text x="0" y="0" textLength="54.99" lengthAdjust="spacingAndGlyphs">Top5 Accuracy</text></g></g>
<rect x="170.5" y="385.5" width="46.8" height="101.7" fill="#fff" stroke="#e0e0e0" stroke-width="1.3"/>
<line x1="172.1" y1="391.1" x2="181.9" y2="391.1" stroke="#f01414" stroke-width="1.5"/><rect x="175.05" y="389.15" width="3.9" height="3.9" fill="#fff" stroke="#f01414" stroke-width="1.5"/><line x1="172.1" y1="401.17" x2="181.9" y2="401.17" stroke="#14e614" stroke-width="1.5"/><circle cx="177" cy="401.17" r="2.6" fill="#fff" stroke="#14e614" stroke-width="1.5"/><line x1="172.1" y1="411.24" x2="181.9" y2="411.24" stroke="#1414f0" stroke-width="1.6" stroke-dasharray="4.4,1.2,1.8,1.2"/><polygon points="180.2,411.24 175.2,408.54 175.2,413.94" fill="#fff" stroke="#1414f0" stroke-width="1.6" stroke-linejoin="miter"/><line x1="172.1" y1="421.31" x2="181.9" y2="421.31" stroke="#3c9ad2" stroke-width="1.3" stroke-dasharray="3.4,1.2,1.2,1.2"/><rect x="175.05" y="419.36" width="3.9" height="3.9" fill="#fff" stroke="#3c9ad2" stroke-width="1.3"/><line x1="172.1" y1="431.38" x2="181.9" y2="431.38" stroke="#2ec42e" stroke-width="1.3" stroke-dasharray="3,1.8"/><polygon points="177,428.28 179.2,431.38 177,434.48 174.8,431.38" fill="#fff" stroke="#2ec42e" stroke-width="1.3"/><line x1="172.1" y1="441.45" x2="181.9" y2="441.45" stroke="#dc8c46" stroke-width="1.2" stroke-dasharray="2.4,1.6"/><rect x="175.05" y="439.5" width="3.9" height="3.9" fill="#fff" stroke="#dc8c46" stroke-width="1.2"/><line x1="172.1" y1="451.52" x2="181.9" y2="451.52" stroke="#dc64dc" stroke-width="1.3" stroke-dasharray="3,1.8"/><polygon points="174,451.52 179.6,448.72 179.6,454.32" fill="#fff" stroke="#dc64dc" stroke-width="1.3" stroke-linejoin="miter"/><line x1="172.1" y1="461.59" x2="181.9" y2="461.59" stroke="#8c1464" stroke-width="1.3" stroke-dasharray="1,1.1"/><polygon points="177,457.99 177.88,460.38 180.42,460.48 178.43,462.05 179.12,464.5 177,463.09 174.88,464.5 175.57,462.05 173.58,460.48 176.12,460.38" fill="#8c1464" stroke="#8c1464" stroke-width="0.6"/><line x1="172.1" y1="471.66" x2="181.9" y2="471.66" stroke="#ff8a0a" stroke-width="1.4" stroke-dasharray="1,1.1"/><polygon points="177,468.46 173.8,473.96 180.2,473.96" fill="#fff" stroke="#ff8a0a" stroke-width="1.4" stroke-linejoin="miter"/><line x1="172.1" y1="481.73" x2="181.9" y2="481.73" stroke="#646464" stroke-width="1.6" stroke-dasharray="4.5,3.2"/><circle cx="177" cy="481.73" r="2.3" fill="#646464"/>
<g font-family='"Liberation Mono", monospace' font-size="8.3" fill="#262626" font-weight="normal" stroke="#262626" stroke-width="0.3"><text x="182.9" y="394.08" textLength="33.2" lengthAdjust="spacingAndGlyphs">Ours–bpr</text><text x="182.9" y="404.15" textLength="33.2" lengthAdjust="spacingAndGlyphs">Ours–mse</text><text x="182.9" y="414.22" textLength="24.9" lengthAdjust="spacingAndGlyphs">CMF–UL</text><text x="182.9" y="424.29" textLength="20.75" lengthAdjust="spacingAndGlyphs">CMF–U</text><text x="182.9" y="434.36" textLength="20.75" lengthAdjust="spacingAndGlyphs">CMF–L</text><text x="182.9" y="444.43" textLength="8.3" lengthAdjust="spacingAndGlyphs">SR</text><text x="182.9" y="454.5" textLength="20.75" lengthAdjust="spacingAndGlyphs">SoRec</text><text x="182.9" y="464.57" textLength="8.3" lengthAdjust="spacingAndGlyphs">MF</text><text x="182.9" y="474.64" textLength="12.45" lengthAdjust="spacingAndGlyphs">SVD</text><text x="182.9" y="484.71" textLength="12.45" lengthAdjust="spacingAndGlyphs">KNN</text></g>
<text x="118.9" y="543.3" text-anchor="middle" font-family='"Liberation Serif", serif' font-weight="bold" font-size="11.6" fill="#1a1a1a" stroke="#1a1a1a" stroke-width="0.2">(e)</text>
<g stroke="#f3f3f3" stroke-width="0.8"><line x1="284.33" y1="385.6" x2="284.33" y2="502.9"/><line x1="309.79" y1="385.6" x2="309.79" y2="502.9"/><line x1="335.25" y1="385.6" x2="335.25" y2="502.9"/><line x1="360.71" y1="385.6" x2="360.71" y2="502.9"/><line x1="386.17" y1="385.6" x2="386.17" y2="502.9"/><line x1="271.6" y1="477.4" x2="398.9" y2="477.4"/><line x1="271.6" y1="451.9" x2="398.9" y2="451.9"/><line x1="271.6" y1="426.4" x2="398.9" y2="426.4"/><line x1="271.6" y1="400.9" x2="398.9" y2="400.9"/></g>
<rect x="271.8" y="385.7" width="127.1" height="117.3" fill="none" stroke="#e0e0e0" stroke-width="1.4"/>
<g stroke="#b0b0b0" stroke-width="0.8"><line x1="284.33" y1="502.9" x2="284.33" y2="501.6"/><line x1="309.79" y1="502.9" x2="309.79" y2="501.6"/><line x1="335.25" y1="502.9" x2="335.25" y2="501.6"/><line x1="360.71" y1="502.9" x2="360.71" y2="501.6"/><line x1="386.17" y1="502.9" x2="386.17" y2="501.6"/><line x1="271.6" y1="502.9" x2="272.9" y2="502.9"/><line x1="271.6" y1="477.4" x2="272.9" y2="477.4"/><line x1="271.6" y1="451.9" x2="272.9" y2="451.9"/><line x1="271.6" y1="426.4" x2="272.9" y2="426.4"/><line x1="271.6" y1="400.9" x2="272.9" y2="400.9"/></g>
<polyline points="284.33,396.82 309.79,407.02 335.25,408.55 360.71,410.59 386.17,411.1" fill="none" stroke="#f01414" stroke-width="1.5"/>
<polyline points="284.33,401.1 309.79,411.1 335.25,420.99 360.71,426.09 386.17,427.42" fill="none" stroke="#14e614" stroke-width="1.5"/>
<polyline points="284.33,423.6 309.79,435.58 335.25,447.31 360.71,458.02 386.17,470.26" fill="none" stroke="#1414f0" stroke-width="1.6" stroke-dasharray="4.4,1.2,1.8,1.2"/>
<polyline points="284.33,434.56 309.79,448.33 335.25,459.55 360.71,469.75 386.17,479.95" fill="none" stroke="#3c9ad2" stroke-width="1.3" stroke-dasharray="3.4,1.2,1.2,1.2"/>
<polyline points="284.33,433.54 309.79,449.35 335.25,460.57 360.71,471.28 386.17,481.48" fill="none" stroke="#2ec42e" stroke-width="1.3" stroke-dasharray="3,1.8"/>
<polyline points="284.33,435.07 309.79,449.86 335.25,458.02 360.71,468.73 386.17,482.5" fill="none" stroke="#dc8c46" stroke-width="1.2" stroke-dasharray="2.4,1.6"/>
<polyline points="284.33,436.09 309.79,451.39 335.25,463.12 360.71,474.34 386.17,484.54" fill="none" stroke="#dc64dc" stroke-width="1.3" stroke-dasharray="3,1.8"/>
<polyline points="284.33,435.84 309.79,451.39 335.25,462.1 360.71,473.32 386.17,485.05" fill="none" stroke="#8c1464" stroke-width="1.3" stroke-dasharray="1,1.1"/>
<polyline points="284.33,443.74 309.79,454.96 335.25,467.71 360.71,477.4 386.17,487.6" fill="none" stroke="#ff8a0a" stroke-width="1.4" stroke-dasharray="1,1.1"/>
<polyline points="284.33,450.88 309.79,465.47 335.25,478.42 360.71,488.82 386.17,498.82" fill="none" stroke="#646464" stroke-width="1.6" stroke-dasharray="4.5,3.2"/>
<rect x="282.38" y="394.87" width="3.9" height="3.9" fill="#fff" stroke="#f01414" stroke-width="1.5"/>
<rect x="307.84" y="405.07" width="3.9" height="3.9" fill="#fff" stroke="#f01414" stroke-width="1.5"/>
<rect x="333.3" y="406.6" width="3.9" height="3.9" fill="#fff" stroke="#f01414" stroke-width="1.5"/>
<rect x="358.76" y="408.64" width="3.9" height="3.9" fill="#fff" stroke="#f01414" stroke-width="1.5"/>
<rect x="384.22" y="409.15" width="3.9" height="3.9" fill="#fff" stroke="#f01414" stroke-width="1.5"/>
<circle cx="284.33" cy="401.1" r="2.6" fill="#fff" stroke="#14e614" stroke-width="1.5"/>
<circle cx="309.79" cy="411.1" r="2.6" fill="#fff" stroke="#14e614" stroke-width="1.5"/>
<circle cx="335.25" cy="420.99" r="2.6" fill="#fff" stroke="#14e614" stroke-width="1.5"/>
<circle cx="360.71" cy="426.09" r="2.6" fill="#fff" stroke="#14e614" stroke-width="1.5"/>
<circle cx="386.17" cy="427.42" r="2.6" fill="#fff" stroke="#14e614" stroke-width="1.5"/>
<polygon points="287.53,423.6 282.53,420.9 282.53,426.3" fill="#fff" stroke="#1414f0" stroke-width="1.6" stroke-linejoin="miter"/>
<polygon points="312.99,435.58 307.99,432.88 307.99,438.28" fill="#fff" stroke="#1414f0" stroke-width="1.6" stroke-linejoin="miter"/>
<polygon points="338.45,447.31 333.45,444.61 333.45,450.01" fill="#fff" stroke="#1414f0" stroke-width="1.6" stroke-linejoin="miter"/>
<polygon points="363.91,458.02 358.91,455.32 358.91,460.72" fill="#fff" stroke="#1414f0" stroke-width="1.6" stroke-linejoin="miter"/>
<polygon points="389.37,470.26 384.37,467.56 384.37,472.96" fill="#fff" stroke="#1414f0" stroke-width="1.6" stroke-linejoin="miter"/>
<rect x="282.38" y="432.61" width="3.9" height="3.9" fill="#fff" stroke="#3c9ad2" stroke-width="1.3"/>
<rect x="307.84" y="446.38" width="3.9" height="3.9" fill="#fff" stroke="#3c9ad2" stroke-width="1.3"/>
<rect x="333.3" y="457.6" width="3.9" height="3.9" fill="#fff" stroke="#3c9ad2" stroke-width="1.3"/>
<rect x="358.76" y="467.8" width="3.9" height="3.9" fill="#fff" stroke="#3c9ad2" stroke-width="1.3"/>
<rect x="384.22" y="478" width="3.9" height="3.9" fill="#fff" stroke="#3c9ad2" stroke-width="1.3"/>
<polygon points="284.33,430.44 286.53,433.54 284.33,436.64 282.13,433.54" fill="#fff" stroke="#2ec42e" stroke-width="1.3"/>
<polygon points="309.79,446.25 311.99,449.35 309.79,452.45 307.59,449.35" fill="#fff" stroke="#2ec42e" stroke-width="1.3"/>
<polygon points="335.25,457.47 337.45,460.57 335.25,463.67 333.05,460.57" fill="#fff" stroke="#2ec42e" stroke-width="1.3"/>
<polygon points="360.71,468.18 362.91,471.28 360.71,474.38 358.51,471.28" fill="#fff" stroke="#2ec42e" stroke-width="1.3"/>
<polygon points="386.17,478.38 388.37,481.48 386.17,484.58 383.97,481.48" fill="#fff" stroke="#2ec42e" stroke-width="1.3"/>
<rect x="282.38" y="433.12" width="3.9" height="3.9" fill="#fff" stroke="#dc8c46" stroke-width="1.2"/>
<rect x="307.84" y="447.91" width="3.9" height="3.9" fill="#fff" stroke="#dc8c46" stroke-width="1.2"/>
<rect x="333.3" y="456.07" width="3.9" height="3.9" fill="#fff" stroke="#dc8c46" stroke-width="1.2"/>
<rect x="358.76" y="466.78" width="3.9" height="3.9" fill="#fff" stroke="#dc8c46" stroke-width="1.2"/>
<rect x="384.22" y="480.55" width="3.9" height="3.9" fill="#fff" stroke="#dc8c46" stroke-width="1.2"/>
<polygon points="281.33,436.09 286.93,433.29 286.93,438.89" fill="#fff" stroke="#dc64dc" stroke-width="1.3" stroke-linejoin="miter"/>
<polygon points="306.79,451.39 312.39,448.59 312.39,454.19" fill="#fff" stroke="#dc64dc" stroke-width="1.3" stroke-linejoin="miter"/>
<polygon points="332.25,463.12 337.85,460.32 337.85,465.92" fill="#fff" stroke="#dc64dc" stroke-width="1.3" stroke-linejoin="miter"/>
<polygon points="357.71,474.34 363.31,471.54 363.31,477.14" fill="#fff" stroke="#dc64dc" stroke-width="1.3" stroke-linejoin="miter"/>
<polygon points="383.17,484.54 388.77,481.74 388.77,487.34" fill="#fff" stroke="#dc64dc" stroke-width="1.3" stroke-linejoin="miter"/>
<polygon points="284.33,432.24 285.21,434.62 287.75,434.72 285.76,436.3 286.45,438.75 284.33,437.34 282.21,438.75 282.9,436.3 280.91,434.72 283.45,434.62" fill="#8c1464" stroke="#8c1464" stroke-width="0.6"/>
<polygon points="309.79,447.79 310.67,450.18 313.21,450.28 311.22,451.85 311.91,454.3 309.79,452.89 307.67,454.3 308.36,451.85 306.37,450.28 308.91,450.18" fill="#8c1464" stroke="#8c1464" stroke-width="0.6"/>
<polygon points="335.25,458.5 336.13,460.89 338.67,460.99 336.68,462.56 337.37,465.01 335.25,463.6 333.13,465.01 333.82,462.56 331.83,460.99 334.37,460.89" fill="#8c1464" stroke="#8c1464" stroke-width="0.6"/>
<polygon points="360.71,469.72 361.59,472.11 364.13,472.21 362.14,473.78 362.83,476.23 360.71,474.82 358.59,476.23 359.28,473.78 357.29,472.21 359.83,472.11" fill="#8c1464" stroke="#8c1464" stroke-width="0.6"/>
<polygon points="386.17,481.45 387.05,483.84 389.59,483.94 387.6,485.51 388.29,487.96 386.17,486.55 384.05,487.96 384.74,485.51 382.75,483.94 385.29,483.84" fill="#8c1464" stroke="#8c1464" stroke-width="0.6"/>
<polygon points="284.33,440.54 281.13,446.04 287.53,446.04" fill="#fff" stroke="#ff8a0a" stroke-width="1.4" stroke-linejoin="miter"/>
<polygon points="309.79,451.76 306.59,457.26 312.99,457.26" fill="#fff" stroke="#ff8a0a" stroke-width="1.4" stroke-linejoin="miter"/>
<polygon points="335.25,464.51 332.05,470.01 338.45,470.01" fill="#fff" stroke="#ff8a0a" stroke-width="1.4" stroke-linejoin="miter"/>
<polygon points="360.71,474.2 357.51,479.7 363.91,479.7" fill="#fff" stroke="#ff8a0a" stroke-width="1.4" stroke-linejoin="miter"/>
<polygon points="386.17,484.4 382.97,489.9 389.37,489.9" fill="#fff" stroke="#ff8a0a" stroke-width="1.4" stroke-linejoin="miter"/>
<circle cx="284.33" cy="450.88" r="2.3" fill="#646464"/>
<circle cx="309.79" cy="465.47" r="2.3" fill="#646464"/>
<circle cx="335.25" cy="478.42" r="2.3" fill="#646464"/>
<circle cx="360.71" cy="488.82" r="2.3" fill="#646464"/>
<circle cx="386.17" cy="498.82" r="2.3" fill="#646464"/>
<g font-family='"Liberation Sans", sans-serif' font-size="8.4" fill="#555555" font-weight="bold"><text transform="scale(0.84,1)" x="301.09 306.24 310.97 315.91" y="506.11">0.55</text><text transform="scale(0.84,1)" x="306.03 311.18 315.91" y="480.61">0.6</text><text transform="scale(0.84,1)" x="301.09 306.24 310.97 315.91" y="455.11">0.65</text><text transform="scale(0.84,1)" x="306.03 311.18 315.91" y="429.61">0.7</text><text transform="scale(0.84,1)" x="301.09 306.24 310.97 315.91" y="404.11">0.75</text><text transform="scale(0.84,1)" x="331.21 336.15 339.69" y="514.01">30%</text><text transform="scale(0.84,1)" x="361.52 366.46 370.00" y="514.01">40%</text><text transform="scale(0.84,1)" x="391.83 396.77 400.31" y="514.01">50%</text><text transform="scale(0.84,1)" x="422.14 427.08 430.62" y="514.01">60%</text><text transform="scale(0.84,1)" x="452.45 457.39 460.93" y="514.01">70%</text></g>
<g font-family='"Liberation Mono", monospace' font-size="8.3" fill="#333333" font-weight="normal" stroke="#333333" stroke-width="0.25"><text x="307.95" y="524.23" textLength="54.6" lengthAdjust="spacingAndGlyphs">Data Sparsity</text><g transform="translate(246.03,454.41) rotate(-90)"><text x="0" y="0" textLength="16.92" lengthAdjust="spacingAndGlyphs">nDCG</text></g><g transform="translate(250.53,437.29) rotate(-90)" font-size="6.6" stroke="#333" stroke-width="0.25"><text x="0" y="0" textLength="3.4" lengthAdjust="spacingAndGlyphs">5</text></g></g>
<rect x="401.1" y="385.5" width="47.1" height="101.7" fill="#fff" stroke="#e0e0e0" stroke-width="1.3"/>
<line x1="402.7" y1="391.5" x2="412.5" y2="391.5" stroke="#f01414" stroke-width="1.5"/><rect x="405.65" y="389.55" width="3.9" height="3.9" fill="#fff" stroke="#f01414" stroke-width="1.5"/><line x1="402.7" y1="401.57" x2="412.5" y2="401.57" stroke="#14e614" stroke-width="1.5"/><circle cx="407.6" cy="401.57" r="2.6" fill="#fff" stroke="#14e614" stroke-width="1.5"/><line x1="402.7" y1="411.64" x2="412.5" y2="411.64" stroke="#1414f0" stroke-width="1.6" stroke-dasharray="4.4,1.2,1.8,1.2"/><polygon points="410.8,411.64 405.8,408.94 405.8,414.34" fill="#fff" stroke="#1414f0" stroke-width="1.6" stroke-linejoin="miter"/><line x1="402.7" y1="421.71" x2="412.5" y2="421.71" stroke="#3c9ad2" stroke-width="1.3" stroke-dasharray="3.4,1.2,1.2,1.2"/><rect x="405.65" y="419.76" width="3.9" height="3.9" fill="#fff" stroke="#3c9ad2" stroke-width="1.3"/><line x1="402.7" y1="431.78" x2="412.5" y2="431.78" stroke="#2ec42e" stroke-width="1.3" stroke-dasharray="3,1.8"/><polygon points="407.6,428.68 409.8,431.78 407.6,434.88 405.4,431.78" fill="#fff" stroke="#2ec42e" stroke-width="1.3"/><line x1="402.7" y1="441.85" x2="412.5" y2="441.85" stroke="#dc8c46" stroke-width="1.2" stroke-dasharray="2.4,1.6"/><rect x="405.65" y="439.9" width="3.9" height="3.9" fill="#fff" stroke="#dc8c46" stroke-width="1.2"/><line x1="402.7" y1="451.92" x2="412.5" y2="451.92" stroke="#dc64dc" stroke-width="1.3" stroke-dasharray="3,1.8"/><polygon points="404.6,451.92 410.2,449.12 410.2,454.72" fill="#fff" stroke="#dc64dc" stroke-width="1.3" stroke-linejoin="miter"/><line x1="402.7" y1="461.99" x2="412.5" y2="461.99" stroke="#8c1464" stroke-width="1.3" stroke-dasharray="1,1.1"/><polygon points="407.6,458.39 408.48,460.78 411.02,460.88 409.03,462.45 409.72,464.9 407.6,463.49 405.48,464.9 406.17,462.45 404.18,460.88 406.72,460.78" fill="#8c1464" stroke="#8c1464" stroke-width="0.6"/><line x1="402.7" y1="472.06" x2="412.5" y2="472.06" stroke="#ff8a0a" stroke-width="1.4" stroke-dasharray="1,1.1"/><polygon points="407.6,468.86 404.4,474.36 410.8,474.36" fill="#fff" stroke="#ff8a0a" stroke-width="1.4" stroke-linejoin="miter"/><line x1="402.7" y1="482.13" x2="412.5" y2="482.13" stroke="#646464" stroke-width="1.6" stroke-dasharray="4.5,3.2"/><circle cx="407.6" cy="482.13" r="2.3" fill="#646464"/>
<g font-family='"Liberation Mono", monospace' font-size="8.3" fill="#262626" font-weight="normal" stroke="#262626" stroke-width="0.3"><text x="413.5" y="394.48" textLength="33.2" lengthAdjust="spacingAndGlyphs">Ours–bpr</text><text x="413.5" y="404.55" textLength="33.2" lengthAdjust="spacingAndGlyphs">Ours–mse</text><text x="413.5" y="414.62" textLength="24.9" lengthAdjust="spacingAndGlyphs">CMF–UL</text><text x="413.5" y="424.69" textLength="20.75" lengthAdjust="spacingAndGlyphs">CMF–U</text><text x="413.5" y="434.76" textLength="20.75" lengthAdjust="spacingAndGlyphs">CMF–L</text><text x="413.5" y="444.83" textLength="8.3" lengthAdjust="spacingAndGlyphs">SR</text><text x="413.5" y="454.9" textLength="20.75" lengthAdjust="spacingAndGlyphs">SoRec</text><text x="413.5" y="464.97" textLength="8.3" lengthAdjust="spacingAndGlyphs">MF</text><text x="413.5" y="475.04" textLength="12.45" lengthAdjust="spacingAndGlyphs">SVD</text><text x="413.5" y="485.11" textLength="12.45" lengthAdjust="spacingAndGlyphs">KNN</text></g>
<text x="349.9" y="543.3" text-anchor="middle" font-family='"Liberation Serif", serif' font-weight="bold" font-size="11.6" fill="#1a1a1a" stroke="#1a1a1a" stroke-width="0.2">(f)</text>
</svg></body></html>
